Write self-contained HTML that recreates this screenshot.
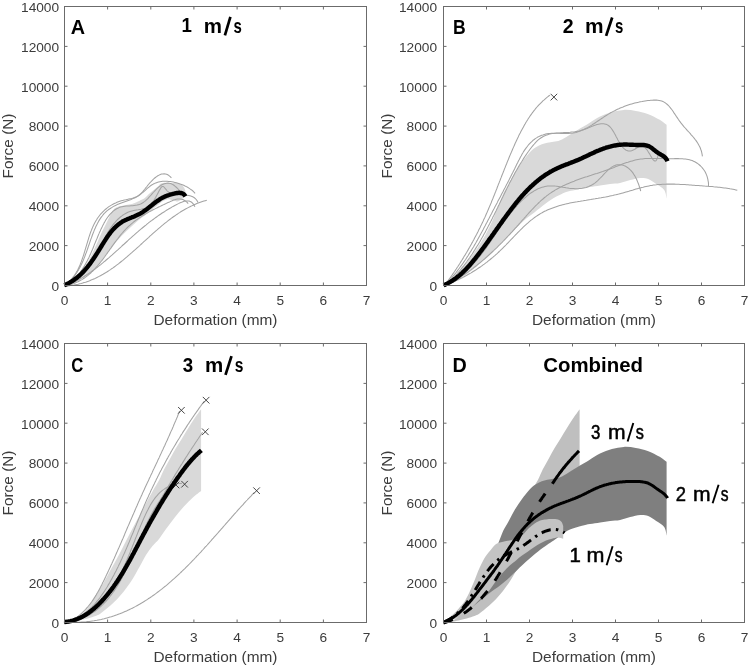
<!DOCTYPE html>
<html><head><meta charset="utf-8"><title>Force-Deformation</title>
<style>html,body{margin:0;padding:0;background:#fff;}svg{display:block;will-change:transform;}text{font-family:"Liberation Sans",sans-serif;}</style>
</head><body>
<svg width="749" height="667" viewBox="0 0 749 667">
<rect width="749" height="667" fill="#fff"/>
<g font-family="Liberation Sans, sans-serif">
<path d="M64.5,285.5C65.9,284.8 70,283.4 73,281C76,278.6 79.8,274.8 82.6,271C85.4,267.2 87.7,262.5 90,258C92.3,253.5 94.8,248 96.6,244C98.4,240 99.7,236.9 101,234C102.3,231.1 103.2,229.5 104.7,226.5C106.2,223.5 108.6,218.6 109.9,216C111.2,213.4 111.5,212.1 112.6,210.7C113.6,209.3 114.7,208.3 116.2,207.5C117.7,206.7 119.9,206.4 121.5,206C123.1,205.6 124.2,205.3 126,205C127.8,204.7 130.2,204.5 132,204C133.8,203.5 135.7,202.6 137,202C138.3,201.4 138.8,201.1 140,200.5C141.2,199.9 143,199.4 144.5,198.3C146,197.2 147.5,195.3 149,194C150.5,192.7 152,191.4 153.5,190.2C155,188.9 156.8,187.6 158,186.5C159.2,185.4 159.8,184.1 161,183.5C162.2,182.9 164,182.8 165.5,182.7C167,182.6 168.5,183.1 170,183.1C171.5,183.1 173,182.6 174.5,182.7C176,182.8 177.6,183 179,183.5C180.4,184 181.7,184.7 182.7,185.7C183.7,186.7 184.5,188.1 185,189.5C185.5,190.9 185.6,193.2 185.7,194L185.7,195.5C185.3,195.9 184.4,196.9 183.5,197.7C182.6,198.4 181.5,199.4 180.5,200C179.5,200.6 178.6,201.4 177.5,201.5C176.4,201.6 174.9,200.8 173.7,200.5C172.4,200.2 171.1,199.7 170,199.5C168.9,199.3 168,199.3 167,199.5C166,199.7 165,200 164,200.5C163,201 162.2,201.6 161,202.5C159.8,203.4 158,204.8 156.5,206C155,207.2 153.5,208.4 152,209.7C150.5,210.9 149,212.3 147.5,213.5C146,214.7 144.8,215.5 143,216.8C141.2,218.1 138.8,220 137,221.5C135.2,223 134.6,223.6 132,226C129.4,228.4 125,232.3 121.5,236C118,239.7 114.4,243.8 111,248C107.6,252.2 104.7,256.8 101.2,261C97.7,265.2 93.9,269.7 90,273C86.1,276.3 82,279 78,281C74,283 68,284.5 66,285.2Z" fill="#d9d9d9" stroke="none"/>
<path d="M64.4,285.4 L65.7,284.5 L66.9,283.6 L68,282.6 L69.1,281.6 L70.2,280.6 L71.2,279.5 L72.1,278.4 L73,277.2 L73.9,276.1 L74.8,274.9 L75.6,273.6 L76.3,272.4 L77.1,271.1 L77.8,269.8 L78.4,268.4 L79.1,267.1 L79.7,265.7 L80.3,264.3 L80.8,262.9 L81.4,261.4 L81.9,260 L82.4,258.5 L82.9,257.1 L83.4,255.6 L83.9,254.1 L84.3,252.6 L84.8,251.1 L85.2,249.6 L85.7,248.1 L86.1,246.6 L86.6,245.1 L87,243.6 L87.5,242.1 L87.9,240.6 L88.4,239.1 L88.8,237.6 L89.3,236.1 L89.8,234.7 L90.3,233.2 L90.8,231.8 L91.4,230.4 L91.9,229 L92.5,227.6 L93.1,226.2 L93.7,224.9 L94.4,223.5 L95.1,222.2 L95.8,221 L96.6,219.7 L97.3,218.5 L98.2,217.3 L99,216.2 L99.9,215 L100.8,213.9 L101.8,212.9 L102.8,211.8 L103.8,210.9 L104.8,209.9 L105.9,209 L107,208.1 L108.2,207.2 L109.3,206.4 L110.6,205.6 L111.8,204.9 L113,204.2 L114.3,203.5 L115.7,202.9 L117,202.3 L118.4,201.8 L119.8,201.3 L121.2,200.8 L122.7,200.4 L124.2,200.1 L125.7,199.8 L127.2,199.4 L128.7,199.1 L130.2,198.8 L131.7,198.5 L133.1,198.1 L134.5,197.6 L135.8,197.1 L137.1,196.4 L138.3,195.7 L139.4,194.8 L140.5,193.9 L141.6,192.9 L142.6,191.8 L143.6,190.6 L144.5,189.5 L145.5,188.2 L146.5,187 L147.5,185.7 L148.5,184.5 L149.6,183.2 L150.7,182 L151.8,180.8 L153,179.6 L154.1,178.5 L155.4,177.5 L156.6,176.6 L157.8,175.8 L159.1,175.1 L160.3,174.5 L161.6,174.1 L162.9,173.9 L164.1,173.8 L165.4,173.9 L166.6,174.2 L167.8,174.8 L169,175.6 L170.2,176.6 L171.4,177.9" fill="none" stroke="#a3a3a3" stroke-width="1.05" stroke-linejoin="round"/>
<path d="M64.7,285.8 L65.9,284.8 L67.1,283.8 L68.3,282.8 L69.4,281.7 L70.4,280.7 L71.5,279.6 L72.4,278.5 L73.4,277.3 L74.3,276.1 L75.2,275 L76,273.8 L76.8,272.6 L77.6,271.3 L78.4,270.1 L79.1,268.8 L79.8,267.5 L80.5,266.2 L81.1,264.9 L81.8,263.6 L82.4,262.2 L83,260.9 L83.6,259.5 L84.1,258.1 L84.7,256.7 L85.2,255.3 L85.7,253.9 L86.3,252.5 L86.8,251.1 L87.3,249.6 L87.8,248.2 L88.3,246.7 L88.8,245.3 L89.3,243.8 L89.8,242.4 L90.3,240.9 L90.8,239.4 L91.4,237.9 L91.9,236.5 L92.4,235 L93,233.5 L93.6,232 L94.1,230.6 L94.7,229.2 L95.4,227.7 L96,226.3 L96.7,224.9 L97.4,223.6 L98.1,222.2 L98.8,220.9 L99.6,219.6 L100.4,218.4 L101.3,217.1 L102.2,216 L103.1,214.8 L104,213.7 L105.1,212.7 L106.1,211.7 L107.2,210.7 L108.3,209.8 L109.5,209 L110.7,208.2 L112,207.4 L113.2,206.6 L114.5,205.9 L115.9,205.3 L117.2,204.6 L118.6,204 L119.9,203.4 L121.3,202.9 L122.7,202.4 L124.1,201.9 L125.5,201.4 L126.9,200.9 L128.3,200.4 L129.7,199.9 L131.1,199.4 L132.4,198.8 L133.8,198.3 L135.1,197.7 L136.4,197 L137.6,196.3 L138.8,195.5 L140,194.7 L141.1,193.8 L142.2,192.9 L143.3,192 L144.4,191.1 L145.5,190.1 L146.5,189.1 L147.6,188.2 L148.7,187.3 L149.8,186.4 L150.9,185.5 L152.1,184.8 L153.3,184.1 L154.6,183.5 L155.8,182.9 L157.1,182.4 L158.5,182 L159.9,181.7 L161.3,181.5 L162.7,181.3 L164.2,181.2 L165.7,181.2 L167.2,181.2 L168.7,181.4 L170.3,181.5 L171.8,181.8 L173.4,182.1 L174.9,182.4 L176.4,182.8 L177.9,183.2 L179.4,183.7 L180.8,184.2 L182.3,184.7 L183.7,185.3 L185,186 L186.3,186.6 L187.6,187.3 L188.9,188.1 L190,188.9 L191.2,189.7 L192.3,190.5 L193.3,191.4 L194.2,192.3 L195.1,193.3" fill="none" stroke="#a3a3a3" stroke-width="1.05" stroke-linejoin="round"/>
<path d="M64.7,285.8 L66,285 L67.4,284.2 L68.7,283.4 L69.9,282.5 L71.1,281.5 L72.3,280.6 L73.4,279.6 L74.5,278.6 L75.6,277.6 L76.6,276.5 L77.6,275.4 L78.6,274.3 L79.5,273.2 L80.4,272 L81.2,270.8 L82.1,269.6 L82.9,268.4 L83.7,267.1 L84.5,265.9 L85.2,264.6 L85.9,263.3 L86.6,262 L87.3,260.7 L88,259.3 L88.7,258 L89.3,256.6 L89.9,255.2 L90.6,253.8 L91.2,252.4 L91.8,251 L92.4,249.6 L93,248.2 L93.6,246.8 L94.1,245.3 L94.7,243.9 L95.3,242.5 L95.9,241 L96.5,239.6 L97.1,238.2 L97.7,236.7 L98.3,235.3 L98.9,233.9 L99.5,232.4 L100.2,231 L100.8,229.6 L101.5,228.2 L102.2,226.8 L102.8,225.4 L103.6,224 L104.3,222.6 L105.1,221.3 L105.8,220 L106.6,218.7 L107.5,217.5 L108.4,216.3 L109.3,215.2 L110.2,214.1 L111.2,213.1 L112.2,212.1 L113.2,211.2 L114.3,210.3 L115.5,209.5 L116.6,208.8 L117.9,208.2 L119.1,207.6 L120.5,207.1 L121.9,206.8 L123.3,206.5 L124.8,206.2 L126.3,206.1 L127.8,206 L129.4,205.9 L131,205.8 L132.5,205.7 L134.1,205.5 L135.6,205.3 L137.1,205.1 L138.5,204.7 L139.9,204.3 L141.2,203.7 L142.4,203 L143.6,202.2 L144.8,201.3 L145.9,200.4 L147,199.4 L148.1,198.3 L149.1,197.2 L150.2,196 L151.2,194.9 L152.2,193.7 L153.2,192.5 L154.3,191.4 L155.3,190.3 L156.4,189.2 L157.5,188.2 L158.6,187.2 L159.7,186.3 L160.8,185.5 L161.9,184.8 L163.1,184.2 L164.3,183.7 L165.5,183.4 L166.7,183.2 L167.9,183.1 L169.2,183.3 L170.5,183.6 L171.8,184.1 L173.2,184.8 L174.6,185.8 L176,187 L177.5,188.4 L179,190 L180.5,192" fill="none" stroke="#a3a3a3" stroke-width="1.05" stroke-linejoin="round"/>
<path d="M64.5,285.8 L66.1,285.3 L67.6,284.8 L69.1,284.2 L70.5,283.5 L71.9,282.8 L73.2,282.1 L74.5,281.3 L75.8,280.5 L77,279.6 L78.2,278.8 L79.3,277.8 L80.4,276.9 L81.5,275.9 L82.5,274.9 L83.5,273.8 L84.5,272.7 L85.4,271.6 L86.4,270.5 L87.3,269.3 L88.1,268.1 L89,266.9 L89.8,265.7 L90.6,264.4 L91.4,263.2 L92.2,261.9 L92.9,260.6 L93.6,259.3 L94.4,258 L95.1,256.6 L95.8,255.3 L96.5,253.9 L97.2,252.6 L97.9,251.2 L98.6,249.8 L99.3,248.4 L100,247.1 L100.6,245.7 L101.3,244.3 L102,242.9 L102.7,241.5 L103.5,240.2 L104.2,238.8 L104.9,237.5 L105.6,236.1 L106.4,234.8 L107.2,233.4 L108,232.1 L108.8,230.8 L109.6,229.5 L110.5,228.3 L111.3,227 L112.2,225.8 L113.1,224.6 L114.1,223.4 L115.1,222.3 L116.1,221.1 L117.1,220 L118.2,219 L119.3,218 L120.4,217 L121.6,216.1 L122.7,215.2 L124,214.4 L125.2,213.7 L126.5,213 L127.9,212.3 L129.2,211.8 L130.7,211.3 L132.1,210.9 L133.6,210.6 L135.1,210.3 L136.6,210 L138.2,209.8 L139.7,209.5 L141.2,209.2 L142.7,208.8 L144.2,208.4 L145.6,207.9 L147,207.2 L148.3,206.4 L149.5,205.5 L150.7,204.4 L151.8,203.1 L152.8,201.8 L153.8,200.5 L154.7,199 L155.6,197.6 L156.4,196.1 L157.2,194.6 L157.9,193.2 L158.6,191.8 L159.3,190.5 L160,189.4 L160.6,188.3 L161.2,187.4 L161.8,186.8 L162.4,186.4 L163,186.4 L163.7,186.8 L164.4,187.5 L165.1,188.4 L166,189.4 L166.8,190.5 L167.8,191.5 L168.8,192.4 L170,193.2 L171.2,193.8 L172.5,194.2 L173.8,194.5 L175.2,194.7 L176.6,194.9 L178.1,195 L179.6,195 L181.1,195 L182.6,195 L184.2,195.1 L185.7,195.1 L187.2,195.3 L188.6,195.5 L190,195.8 L191.4,196.2 L192.7,196.8 L194,197.5 L195.1,198.4 L196.2,199.5 L197.2,200.9 L198.1,202.4" fill="none" stroke="#a3a3a3" stroke-width="1.05" stroke-linejoin="round"/>
<path d="M64.5,286 L66.1,285.7 L67.7,285.3 L69.3,284.9 L70.8,284.5 L72.3,284 L73.8,283.5 L75.2,282.9 L76.6,282.3 L78,281.7 L79.3,281 L80.6,280.3 L81.9,279.6 L83.2,278.8 L84.4,278 L85.6,277.1 L86.7,276.3 L87.9,275.4 L89,274.4 L90.1,273.5 L91.2,272.5 L92.2,271.5 L93.3,270.5 L94.3,269.4 L95.3,268.3 L96.3,267.2 L97.3,266.1 L98.2,265 L99.2,263.9 L100.1,262.7 L101,261.5 L102,260.4 L102.9,259.2 L103.8,258 L104.7,256.8 L105.6,255.5 L106.5,254.3 L107.3,253.1 L108.2,251.8 L109.1,250.6 L110,249.3 L110.9,248.1 L111.7,246.9 L112.6,245.6 L113.5,244.4 L114.4,243.1 L115.3,241.9 L116.2,240.7 L117.1,239.5 L118.1,238.3 L119,237.1 L119.9,235.9 L120.9,234.7 L121.9,233.5 L122.9,232.4 L123.9,231.2 L124.9,230.1 L125.9,229 L127,227.9 L128,226.9 L129.1,225.8 L130.3,224.8 L131.4,223.8 L132.6,222.9 L133.7,221.9 L134.9,221 L136.1,220.1 L137.4,219.2 L138.6,218.3 L139.9,217.5 L141.2,216.6 L142.5,215.8 L143.8,215 L145.1,214.2 L146.4,213.4 L147.7,212.7 L149.1,211.9 L150.4,211.2 L151.8,210.5 L153.1,209.8 L154.5,209.1 L155.9,208.4 L157.3,207.7 L158.6,207 L160,206.4 L161.4,205.7 L162.8,205.1 L164.1,204.4 L165.5,203.8 L166.9,203.1 L168.2,202.5 L169.6,201.9 L170.9,201.2 L172.2,200.7 L173.6,200.1 L174.9,199.7 L176.2,199.3 L177.6,199.1 L178.9,198.9 L180.2,199 L181.5,199.2 L182.9,199.6 L184.2,200.2 L185.5,201.1 L186.9,202.2 L188.2,203.6" fill="none" stroke="#a3a3a3" stroke-width="1.05" stroke-linejoin="round"/>
<path d="M64.8,286.2 L66.2,285.7 L67.6,285.1 L69,284.5 L70.4,283.9 L71.8,283.2 L73.1,282.6 L74.5,281.9 L75.8,281.2 L77.1,280.5 L78.4,279.8 L79.7,279.1 L81,278.3 L82.3,277.6 L83.6,276.8 L84.8,276 L86.1,275.2 L87.3,274.4 L88.5,273.6 L89.8,272.8 L91,271.9 L92.2,271 L93.4,270.2 L94.6,269.3 L95.8,268.4 L97,267.5 L98.1,266.6 L99.3,265.7 L100.5,264.8 L101.6,263.8 L102.8,262.9 L103.9,261.9 L105.1,261 L106.2,260 L107.4,259 L108.5,258.1 L109.6,257.1 L110.7,256.1 L111.9,255.1 L113,254.1 L114.1,253.1 L115.2,252.1 L116.3,251.1 L117.5,250.1 L118.6,249.1 L119.7,248.1 L120.8,247.1 L121.9,246 L123,245 L124.2,244 L125.3,243 L126.4,242 L127.5,241 L128.6,239.9 L129.7,238.9 L130.9,237.9 L132,236.9 L133.1,235.9 L134.3,234.9 L135.4,233.9 L136.5,232.9 L137.7,231.9 L138.8,230.9 L140,229.9 L141.2,228.9 L142.3,228 L143.5,227 L144.7,226 L145.9,225.1 L147,224.1 L148.2,223.2 L149.4,222.2 L150.6,221.3 L151.9,220.4 L153.1,219.5 L154.3,218.6 L155.5,217.7 L156.8,216.8 L158,215.9 L159.3,215 L160.5,214.2 L161.8,213.3 L163.1,212.5 L164.4,211.7 L165.6,210.9 L166.9,210 L168.2,209.3 L169.5,208.5 L170.9,207.7 L172.2,206.9 L173.5,206.2 L174.8,205.5 L176.2,204.8 L177.5,204.1 L178.9,203.4 L180.2,202.7 L181.6,202.2 L182.9,201.7 L184.2,201.3 L185.5,201 L186.7,200.9 L188,200.9 L189.1,201.1 L190.2,201.5 L191.3,202 L192.3,202.8 L193.2,203.9 L194.1,205.2 L194.9,206.8" fill="none" stroke="#a3a3a3" stroke-width="1.05" stroke-linejoin="round"/>
<path d="M64.5,286.1 L66.1,286 L67.7,285.9 L69.2,285.7 L70.8,285.6 L72.3,285.3 L73.8,285.1 L75.4,284.8 L76.9,284.5 L78.3,284.2 L79.8,283.8 L81.3,283.5 L82.7,283.1 L84.1,282.6 L85.6,282.2 L87,281.7 L88.4,281.2 L89.7,280.7 L91.1,280.1 L92.5,279.6 L93.8,279 L95.2,278.4 L96.5,277.7 L97.8,277.1 L99.1,276.4 L100.4,275.7 L101.7,275 L103,274.3 L104.3,273.5 L105.5,272.8 L106.8,272 L108,271.2 L109.3,270.4 L110.5,269.6 L111.7,268.7 L113,267.9 L114.2,267 L115.4,266.1 L116.6,265.2 L117.8,264.3 L119,263.4 L120.1,262.5 L121.3,261.5 L122.5,260.6 L123.7,259.6 L124.8,258.7 L126,257.7 L127.2,256.7 L128.3,255.7 L129.5,254.7 L130.6,253.7 L131.8,252.7 L132.9,251.7 L134,250.7 L135.2,249.7 L136.3,248.7 L137.4,247.6 L138.6,246.6 L139.7,245.6 L140.8,244.5 L142,243.5 L143.1,242.4 L144.2,241.4 L145.4,240.4 L146.5,239.3 L147.6,238.3 L148.8,237.3 L149.9,236.2 L151.1,235.2 L152.2,234.2 L153.3,233.2 L154.5,232.1 L155.6,231.1 L156.8,230.1 L157.9,229.1 L159.1,228.1 L160.3,227.1 L161.4,226.1 L162.6,225.2 L163.8,224.2 L165,223.2 L166.1,222.3 L167.3,221.4 L168.5,220.4 L169.7,219.5 L170.9,218.6 L172.1,217.7 L173.4,216.8 L174.6,216 L175.8,215.1 L177.1,214.3 L178.3,213.4 L179.6,212.6 L180.8,211.8 L182.1,211 L183.4,210.3 L184.7,209.5 L186,208.8 L187.3,208.1 L188.6,207.4 L190,206.7 L191.3,206.1 L192.7,205.4 L194,204.8 L195.4,204.2 L196.8,203.6 L198.2,203.1 L199.6,202.6 L201,202.1 L202.4,201.6 L203.9,201.1 L205.3,200.7 L206.8,200.3" fill="none" stroke="#a3a3a3" stroke-width="1.05" stroke-linejoin="round"/>
<path d="M64.3,285.2 L65.3,284.8 L66.3,284.4 L67.2,283.9 L68.1,283.4 L69.1,282.9 L70,282.4 L70.8,281.9 L71.7,281.4 L72.6,280.9 L73.4,280.3 L74.2,279.7 L75,279.1 L75.8,278.5 L76.6,277.9 L77.4,277.3 L78.1,276.7 L78.9,276 L79.6,275.4 L80.4,274.7 L81.1,274 L81.8,273.3 L82.5,272.6 L83.2,271.9 L83.8,271.2 L84.5,270.5 L85.1,269.7 L85.8,269 L86.4,268.2 L87.1,267.5 L87.7,266.7 L88.3,265.9 L88.9,265.1 L89.5,264.4 L90.1,263.6 L90.7,262.8 L91.3,261.9 L91.8,261.1 L92.4,260.3 L93,259.5 L93.5,258.7 L94.1,257.8 L94.7,257 L95.2,256.1 L95.8,255.3 L96.3,254.4 L96.8,253.6 L97.4,252.7 L97.9,251.9 L98.5,251 L99,250.1 L99.5,249.3 L100.1,248.4 L100.6,247.5 L101.1,246.7 L101.7,245.8 L102.2,244.9 L102.7,244 L103.3,243.2 L103.8,242.3 L104.4,241.4 L104.9,240.6 L105.5,239.7 L106,238.9 L106.6,238 L107.1,237.2 L107.7,236.4 L108.3,235.5 L108.9,234.7 L109.5,233.9 L110.1,233.1 L110.7,232.3 L111.3,231.5 L112,230.8 L112.6,230 L113.3,229.3 L113.9,228.6 L114.6,227.9 L115.3,227.2 L116,226.5 L116.8,225.8 L117.5,225.2 L118.3,224.6 L119,224 L119.8,223.4 L120.6,222.8 L121.4,222.3 L122.3,221.7 L123.1,221.2 L124,220.8 L124.9,220.3 L125.8,219.9 L126.8,219.5 L127.7,219.1 L128.6,218.7 L129.6,218.3 L130.5,217.9 L131.5,217.5 L132.4,217.1 L133.4,216.8 L134.3,216.4 L135.2,216 L136.1,215.6 L137,215.1 L137.9,214.7 L138.8,214.3 L139.7,213.8 L140.6,213.3 L141.4,212.8 L142.3,212.3 L143.1,211.8 L143.9,211.2 L144.7,210.7 L145.6,210.1 L146.4,209.5 L147.2,208.9 L147.9,208.3 L148.7,207.7 L149.5,207.1 L150.3,206.4 L151.1,205.8 L151.9,205.2 L152.7,204.5 L153.4,203.9 L154.2,203.3 L155,202.7 L155.8,202.1 L156.6,201.5 L157.4,200.9 L158.3,200.3 L159.1,199.8 L159.9,199.2 L160.8,198.7 L161.7,198.2 L162.5,197.7 L163.4,197.3 L164.3,196.8 L165.2,196.4 L166.2,196 L167.1,195.7 L168.1,195.3 L169.1,195 L170,194.7 L171,194.4 L172,194.2 L173,193.9 L174,193.7 L175,193.4 L176,193.2 L177,193 L178,192.9 L179,192.8 L179.9,192.9 L180.9,193 L181.7,193.2 L182.6,193.5 L183.4,193.9 L184.1,194.6 L184.8,195.3 L185.4,196.3" fill="none" stroke="#000" stroke-width="4.4" stroke-linejoin="round" stroke-linecap="butt"/>
<path d="M443.5,285.5C445.6,283.8 451.9,279.1 456,275C460.1,270.9 464,266.2 468,261C472,255.8 476.3,249.8 480,244C483.7,238.2 487,232.2 490,226C493,219.8 495.8,212.3 498,207C500.2,201.7 501.4,197.8 503.1,194C504.9,190.2 506.6,188 508.5,184.4C510.4,180.8 512.5,176.4 514.8,172.7C517,168.9 519.6,165.2 522,161.9C524.4,158.6 527,155.3 529.2,152.9C531.5,150.5 533.4,148.9 535.5,147.5C537.6,146.1 539.5,145.1 541.8,144.3C544,143.5 546.8,142.9 549,142.5C551.2,142.1 552.8,142.1 555,141.6C557.2,141.1 559.3,140.7 562,139.4C564.7,138.1 568,135.8 571,134C574,132.2 577,130.4 580,128.6C583,126.8 585.7,125.2 589,123.2C592.3,121.2 596.2,118.4 600,116.5C603.8,114.6 607.9,113 611.9,111.9C615.9,110.8 619.9,110.1 623.9,109.9C627.9,109.7 631.8,110.2 635.8,110.9C639.8,111.6 643.7,112.4 647.7,113.9C651.7,115.4 656.6,118 659.7,119.8C662.9,121.6 665.5,124 666.6,124.8L666.6,198.4C666.2,197 665.9,192.4 664.2,190C662.5,187.6 658.9,185.8 656.2,184C653.5,182.2 650.9,180 648.2,179C645.5,178 643.2,177.8 640.2,178C637.2,178.2 633.6,179.2 630.2,180C626.9,180.8 623.5,182.3 620.1,183C616.8,183.7 613.4,183.6 610.1,184C606.8,184.4 603.5,185 600.1,185.5C596.8,186 593,186.5 590,187C587,187.5 584.5,188.1 582,188.6C579.5,189.1 577.5,189.4 575,189.9C572.5,190.4 569.2,191 567,191.7C564.8,192.4 563.5,193.1 561.7,193.9C559.9,194.7 558.2,195.6 556.4,196.6C554.6,197.6 552.8,198.7 551,199.8C549.2,201 547.5,202.2 545.7,203.5C543.9,204.8 542.1,206.4 540.3,207.8C538.5,209.2 537.7,209.9 535,212C532.3,214.1 527.8,217.2 524,220.6C520.2,224 516,228.4 512,232.4C508,236.4 503.8,240.7 500,244.4C496.2,248.1 493,250.7 489,254.5C485,258.3 480.5,263.2 476,267C471.5,270.8 466.8,274.6 462,277.5C457.2,280.4 449.5,283.1 447,284.2Z" fill="#d9d9d9" stroke="none"/>
<path d="M444.1,286.1 L445,284.9 L445.9,283.7 L446.8,282.5 L447.7,281.3 L448.5,280.1 L449.4,278.8 L450.3,277.6 L451.2,276.4 L452,275.2 L452.9,273.9 L453.7,272.7 L454.6,271.5 L455.4,270.2 L456.2,269 L457,267.7 L457.9,266.5 L458.7,265.2 L459.5,264 L460.3,262.7 L461.1,261.4 L461.9,260.2 L462.7,258.9 L463.5,257.6 L464.2,256.3 L465,255.1 L465.8,253.8 L466.6,252.5 L467.3,251.2 L468.1,249.9 L468.8,248.6 L469.6,247.3 L470.3,246 L471,244.7 L471.7,243.4 L472.5,242.1 L473.2,240.8 L473.9,239.5 L474.6,238.1 L475.3,236.8 L476,235.5 L476.7,234.2 L477.4,232.8 L478.1,231.5 L478.7,230.1 L479.4,228.8 L480.1,227.5 L480.7,226.1 L481.4,224.8 L482,223.4 L482.7,222 L483.3,220.7 L483.9,219.3 L484.6,218 L485.2,216.6 L485.8,215.2 L486.4,213.8 L487,212.5 L487.6,211.1 L488.2,209.7 L488.8,208.3 L489.4,206.9 L490,205.5 L490.6,204.1 L491.2,202.7 L491.7,201.3 L492.3,199.9 L492.9,198.5 L493.4,197.1 L494,195.7 L494.6,194.3 L495.1,192.9 L495.7,191.5 L496.2,190.1 L496.8,188.7 L497.3,187.3 L497.9,185.8 L498.4,184.4 L499,183 L499.5,181.6 L500.1,180.2 L500.6,178.8 L501.2,177.4 L501.7,176 L502.3,174.5 L502.9,173.1 L503.4,171.7 L504,170.3 L504.5,168.9 L505.1,167.5 L505.6,166.1 L506.2,164.7 L506.8,163.3 L507.3,161.9 L507.9,160.5 L508.5,159.1 L509,157.7 L509.6,156.3 L510.2,154.9 L510.8,153.5 L511.4,152.1 L512,150.7 L512.6,149.3 L513.2,147.9 L513.8,146.6 L514.4,145.2 L515,143.8 L515.6,142.4 L516.3,141.1 L516.9,139.7 L517.5,138.4 L518.2,137 L518.8,135.6 L519.5,134.3 L520.2,133 L520.9,131.6 L521.6,130.3 L522.3,129 L523,127.7 L523.7,126.4 L524.4,125.1 L525.2,123.8 L525.9,122.5 L526.7,121.3 L527.5,120 L528.2,118.8 L529.1,117.5 L529.9,116.3 L530.7,115.1 L531.6,113.9 L532.4,112.7 L533.3,111.6 L534.2,110.4 L535.1,109.3 L536,108.1 L537,107 L538,105.9 L538.9,104.9 L540,103.8 L541,102.8 L542,101.8 L543.1,100.7 L544.2,99.8 L545.3,98.8 L546.4,97.8 L547.6,96.9 L548.7,96 L549.9,95.1" fill="none" stroke="#a3a3a3" stroke-width="1.05" stroke-linejoin="round"/>
<path d="M444.1,286 L445.1,285 L446.1,283.9 L447.2,282.9 L448.2,281.8 L449.2,280.7 L450.2,279.6 L451.1,278.5 L452.1,277.4 L453.1,276.2 L454,275.1 L455,273.9 L455.9,272.8 L456.8,271.6 L457.7,270.4 L458.6,269.2 L459.5,268 L460.4,266.8 L461.3,265.6 L462.2,264.4 L463,263.2 L463.9,261.9 L464.7,260.7 L465.6,259.5 L466.4,258.2 L467.2,256.9 L468,255.7 L468.8,254.4 L469.6,253.1 L470.4,251.8 L471.2,250.6 L472,249.3 L472.8,248 L473.6,246.7 L474.3,245.4 L475.1,244.1 L475.9,242.7 L476.6,241.4 L477.4,240.1 L478.1,238.8 L478.8,237.5 L479.6,236.1 L480.3,234.8 L481,233.5 L481.8,232.1 L482.5,230.8 L483.2,229.5 L483.9,228.1 L484.6,226.8 L485.3,225.5 L486,224.1 L486.7,222.8 L487.4,221.4 L488.1,220.1 L488.8,218.8 L489.5,217.4 L490.2,216.1 L490.9,214.8 L491.6,213.5 L492.3,212.1 L492.9,210.8 L493.6,209.5 L494.3,208.2 L495,206.8 L495.7,205.5 L496.4,204.2 L497.1,202.9 L497.7,201.6 L498.4,200.3 L499.1,199 L499.8,197.7 L500.5,196.4 L501.2,195.1 L501.8,193.8 L502.5,192.5 L503.2,191.2 L503.9,189.8 L504.6,188.5 L505.3,187.2 L505.9,185.9 L506.6,184.6 L507.3,183.3 L508,181.9 L508.7,180.6 L509.4,179.2 L510,177.9 L510.7,176.6 L511.4,175.2 L512.1,173.8 L512.8,172.5 L513.5,171.1 L514.2,169.7 L514.9,168.3 L515.5,166.9 L516.2,165.5 L516.9,164.1 L517.6,162.7 L518.3,161.2 L519.1,159.8 L519.8,158.4 L520.5,157 L521.3,155.7 L522,154.3 L522.8,153 L523.6,151.6 L524.4,150.4 L525.3,149.1 L526.2,147.9 L527.1,146.7 L528,145.5 L528.9,144.4 L529.9,143.3 L530.9,142.3 L532,141.3 L533,140.3 L534.2,139.5 L535.3,138.6 L536.5,137.9 L537.7,137.1 L539,136.5 L540.2,135.9 L541.6,135.3 L542.9,134.9 L544.3,134.4 L545.7,134.1 L547.1,133.8 L548.6,133.5 L550,133.4 L551.6,133.2 L553.1,133.2 L554.6,133.2 L556.2,133.2 L557.8,133.2 L559.3,133.3 L560.9,133.4 L562.5,133.4 L564.1,133.5 L565.6,133.5 L567.2,133.5 L568.7,133.4 L570.2,133.3 L571.7,133.2 L573.1,133 L574.6,132.7 L576,132.4 L577.4,132 L578.7,131.5 L580.1,131.1 L581.4,130.5 L582.7,130 L584.1,129.4 L585.3,128.7 L586.6,128.1 L587.9,127.4 L589.2,126.6 L590.4,125.9 L591.7,125.1 L592.9,124.3 L594.2,123.5 L595.4,122.7 L596.6,121.9 L597.9,121 L599.1,120.2 L600.4,119.4 L601.6,118.5 L602.9,117.7 L604.1,116.8 L605.4,116 L606.7,115.2 L608,114.4 L609.3,113.6 L610.6,112.8 L611.9,112.1 L613.3,111.4 L614.7,110.7 L616,110 L617.4,109.3 L618.8,108.7 L620.2,108 L621.6,107.5 L623.1,106.9 L624.5,106.3 L626,105.8 L627.4,105.3 L628.9,104.8 L630.3,104.3 L631.8,103.9 L633.2,103.5 L634.7,103.1 L636.2,102.7 L637.7,102.4 L639.1,102.1 L640.6,101.7 L642.1,101.5 L643.5,101.2 L645,101 L646.5,100.8 L647.9,100.6 L649.4,100.4 L650.8,100.3 L652.3,100.2 L653.7,100.1 L655.1,100.1 L656.5,100.1 L657.8,100.2 L659.2,100.4 L660.5,100.7 L661.7,101 L662.9,101.5 L664.1,102.1 L665.2,102.8 L666.3,103.6 L667.3,104.5 L668.3,105.4 L669.3,106.5 L670.2,107.6 L671.2,108.8 L672.1,110 L673,111.3 L673.8,112.6 L674.7,113.9 L675.6,115.2 L676.5,116.6 L677.4,117.9 L678.3,119.3 L679.2,120.6 L680.2,121.9 L681.1,123.2 L682.1,124.4 L683.1,125.6 L684.1,126.8 L685.2,128 L686.2,129.1 L687.2,130.3 L688.2,131.4 L689.3,132.5 L690.3,133.7 L691.2,134.8 L692.2,135.9 L693.2,137 L694.1,138.1 L695,139.3 L695.9,140.4 L696.7,141.6 L697.5,142.8 L698.2,144 L698.9,145.3 L699.6,146.5 L700.2,147.8 L700.7,149.2 L701.2,150.5 L701.6,151.9 L701.9,153.4 L702.2,154.9 L702.4,156.4" fill="none" stroke="#a3a3a3" stroke-width="1.05" stroke-linejoin="round"/>
<path d="M444.3,286.4 L445.4,285.4 L446.5,284.4 L447.6,283.4 L448.6,282.4 L449.7,281.4 L450.8,280.4 L451.8,279.4 L452.8,278.3 L453.9,277.3 L454.9,276.2 L455.9,275.1 L456.9,274 L457.8,272.9 L458.8,271.8 L459.8,270.7 L460.7,269.5 L461.6,268.4 L462.6,267.2 L463.5,266.1 L464.4,264.9 L465.3,263.7 L466.2,262.5 L467.1,261.3 L467.9,260.1 L468.8,258.9 L469.7,257.7 L470.5,256.4 L471.4,255.2 L472.2,254 L473,252.7 L473.8,251.4 L474.6,250.2 L475.4,248.9 L476.2,247.6 L477,246.3 L477.8,245.1 L478.6,243.8 L479.4,242.5 L480.1,241.2 L480.9,239.8 L481.6,238.5 L482.4,237.2 L483.1,235.9 L483.8,234.6 L484.6,233.2 L485.3,231.9 L486,230.6 L486.7,229.2 L487.4,227.9 L488.1,226.6 L488.8,225.2 L489.5,223.9 L490.2,222.5 L490.9,221.2 L491.6,219.8 L492.3,218.5 L492.9,217.1 L493.6,215.8 L494.3,214.4 L495,213.1 L495.6,211.7 L496.3,210.4 L496.9,209 L497.6,207.7 L498.2,206.3 L498.9,205 L499.5,203.6 L500.2,202.3 L500.8,200.9 L501.5,199.6 L502.1,198.2 L502.8,196.9 L503.4,195.6 L504.1,194.2 L504.7,192.9 L505.4,191.6 L506,190.2 L506.7,188.9 L507.3,187.6 L508,186.3 L508.7,184.9 L509.3,183.6 L510,182.3 L510.7,181 L511.4,179.7 L512.1,178.3 L512.8,177 L513.5,175.7 L514.2,174.4 L514.9,173.1 L515.6,171.8 L516.4,170.5 L517.1,169.2 L517.9,167.9 L518.6,166.6 L519.4,165.3 L520.2,164 L521,162.7 L521.8,161.5 L522.6,160.2 L523.4,158.9 L524.2,157.6 L525.1,156.3 L525.9,155.1 L526.8,153.8 L527.7,152.5 L528.6,151.3 L529.5,150 L530.4,148.8 L531.4,147.5 L532.3,146.3 L533.3,145.1 L534.3,144 L535.3,142.8 L536.4,141.7 L537.4,140.7 L538.5,139.7 L539.6,138.8 L540.8,138 L542,137.2 L543.2,136.5 L544.4,135.9 L545.7,135.3 L546.9,134.9 L548.3,134.5 L549.6,134.1 L550.9,133.8 L552.3,133.6 L553.7,133.4 L555.2,133.2 L556.6,133.1 L558,133 L559.5,132.9 L561,132.8 L562.5,132.7 L564,132.6 L565.5,132.6 L567,132.5 L568.6,132.4 L570.1,132.3 L571.6,132.1 L573.2,132 L574.7,131.8 L576.3,131.5 L577.8,131.2 L579.4,130.9 L580.9,130.5 L582.4,130 L583.9,129.5 L585.5,128.9 L587,128.4 L588.5,127.8 L589.9,127.2 L591.4,126.6 L592.8,126.1 L594.2,125.5 L595.6,125.1 L597,124.6 L598.4,124.3 L599.7,124 L601,123.8 L602.2,123.7 L603.5,123.8 L604.7,123.9 L605.8,124.2 L606.9,124.6 L608,125.2 L609,126 L610,126.9 L611,128 L611.9,129.2 L612.8,130.6 L613.7,132 L614.5,133.5 L615.4,135.1 L616.2,136.7 L617.1,138.3 L617.9,140 L618.8,141.5 L619.7,143.1 L620.6,144.5 L621.6,145.9 L622.6,147.2 L623.6,148.3 L624.7,149.2 L625.8,150 L627,150.6 L628.2,151 L629.5,151.1 L630.8,151 L632.2,150.5 L633.7,149.8 L635.2,149 L636.6,148 L638.1,147.2 L639.6,146.6 L640.9,146.3 L642.2,146.3 L643.4,146.7 L644.6,147.4 L645.7,148.3 L646.7,149.5 L647.6,150.8 L648.5,152.2 L649.4,153.6 L650.2,155 L651,156.4 L651.8,157.7 L652.5,158.9 L653.2,159.8 L653.9,160.5 L654.7,161 L655.3,161 L656,160.7 L656.6,159.8 L657.2,158.5 L657.7,156.9 L658.2,154.8 L658.6,152.5" fill="none" stroke="#a3a3a3" stroke-width="1.05" stroke-linejoin="round"/>
<path d="M443.8,286.1 L445.2,285.5 L446.5,284.8 L447.9,284.1 L449.2,283.4 L450.5,282.7 L451.8,282 L453.1,281.3 L454.4,280.6 L455.7,279.8 L457,279.1 L458.3,278.3 L459.5,277.5 L460.8,276.7 L462,275.9 L463.3,275.1 L464.5,274.3 L465.7,273.5 L467,272.6 L468.2,271.8 L469.4,270.9 L470.6,270.1 L471.8,269.2 L473,268.3 L474.1,267.4 L475.3,266.5 L476.5,265.6 L477.6,264.7 L478.8,263.7 L479.9,262.8 L481.1,261.8 L482.2,260.9 L483.4,259.9 L484.5,259 L485.6,258 L486.7,257 L487.8,256 L488.9,255 L490,254 L491.1,253 L492.2,252 L493.3,251 L494.4,249.9 L495.5,248.9 L496.6,247.9 L497.6,246.8 L498.7,245.7 L499.8,244.7 L500.8,243.6 L501.9,242.6 L502.9,241.5 L504,240.4 L505,239.3 L506.1,238.2 L507.1,237.1 L508.1,236 L509.2,234.9 L510.2,233.8 L511.2,232.7 L512.3,231.6 L513.3,230.4 L514.3,229.3 L515.3,228.2 L516.4,227.1 L517.4,225.9 L518.4,224.8 L519.4,223.6 L520.4,222.5 L521.4,221.4 L522.4,220.2 L523.5,219.1 L524.5,217.9 L525.5,216.8 L526.5,215.6 L527.5,214.5 L528.5,213.4 L529.6,212.2 L530.6,211.1 L531.6,210 L532.7,208.9 L533.7,207.8 L534.8,206.7 L535.8,205.6 L536.9,204.6 L538,203.5 L539.1,202.5 L540.1,201.5 L541.2,200.4 L542.4,199.5 L543.5,198.5 L544.6,197.5 L545.8,196.6 L546.9,195.7 L548.1,194.8 L549.3,193.9 L550.5,193.1 L551.7,192.3 L552.9,191.5 L554.2,190.7 L555.4,189.9 L556.7,189.2 L558,188.5 L559.3,187.8 L560.6,187.1 L561.9,186.4 L563.2,185.8 L564.5,185.2 L565.9,184.6 L567.2,184 L568.6,183.4 L570,182.8 L571.3,182.2 L572.7,181.7 L574.1,181.2 L575.5,180.6 L576.9,180.1 L578.3,179.6 L579.7,179.1 L581.1,178.6 L582.6,178.1 L584,177.6 L585.4,177.1 L586.9,176.7 L588.3,176.2 L589.7,175.7 L591.2,175.3 L592.6,174.8 L594,174.3 L595.5,173.8 L596.9,173.4 L598.4,172.9 L599.8,172.4 L601.2,171.9 L602.7,171.5 L604.1,171 L605.5,170.5 L607,170 L608.4,169.5 L609.8,168.9 L611.2,168.4 L612.6,167.9 L614,167.4 L615.4,166.8 L616.8,166.3 L618.2,165.7 L619.6,165.2 L621,164.7 L622.4,164.1 L623.8,163.6 L625.2,163.1 L626.6,162.6 L628,162.2 L629.4,161.7 L630.8,161.3 L632.3,160.9 L633.7,160.5 L635.1,160.1 L636.5,159.8 L637.9,159.5 L639.4,159.3 L640.8,159.1 L642.3,158.9 L643.7,158.7 L645.2,158.6 L646.6,158.5 L648.1,158.4 L649.6,158.4 L651.1,158.4 L652.5,158.4 L654,158.4 L655.5,158.4 L657,158.4 L658.5,158.4 L660,158.5 L661.5,158.5 L663,158.6 L664.5,158.6 L666,158.6 L667.6,158.7 L669.1,158.7 L670.6,158.7 L672.1,158.7 L673.6,158.7 L675.1,158.6 L676.6,158.6 L678.1,158.6 L679.6,158.7 L681,158.7 L682.5,158.8 L683.9,158.9 L685.4,159 L686.8,159.2 L688.2,159.5 L689.5,159.8 L690.9,160.2 L692.2,160.6 L693.5,161.2 L694.8,161.8 L696,162.5 L697.2,163.2 L698.4,164.1 L699.5,165 L700.6,166 L701.6,167 L702.5,168.1 L703.4,169.3 L704.3,170.5 L705.1,171.8 L705.8,173.2 L706.4,174.6 L707,176.1 L707.4,177.6 L707.8,179.2 L708.1,180.8 L708.4,182.4 L708.5,184.1 L708.5,185.9" fill="none" stroke="#a3a3a3" stroke-width="1.05" stroke-linejoin="round"/>
<path d="M443.3,285.6 L444.8,284.9 L446.3,284.3 L447.7,283.6 L449.1,282.9 L450.5,282.1 L451.8,281.4 L453.2,280.6 L454.5,279.8 L455.8,279 L457,278.2 L458.3,277.3 L459.5,276.4 L460.7,275.5 L461.9,274.6 L463,273.7 L464.2,272.7 L465.3,271.8 L466.4,270.8 L467.5,269.8 L468.6,268.8 L469.6,267.7 L470.7,266.7 L471.7,265.6 L472.7,264.6 L473.7,263.5 L474.7,262.4 L475.7,261.3 L476.6,260.1 L477.6,259 L478.5,257.9 L479.5,256.7 L480.4,255.5 L481.3,254.4 L482.2,253.2 L483.1,252 L484,250.8 L484.9,249.6 L485.8,248.4 L486.6,247.2 L487.5,246 L488.3,244.7 L489.2,243.5 L490.1,242.3 L490.9,241 L491.8,239.8 L492.6,238.5 L493.5,237.3 L494.3,236 L495.1,234.8 L496,233.5 L496.8,232.3 L497.7,231 L498.5,229.8 L499.4,228.5 L500.3,227.3 L501.1,226 L502,224.8 L502.9,223.5 L503.7,222.3 L504.6,221.1 L505.5,219.8 L506.4,218.6 L507.3,217.4 L508.2,216.2 L509.2,215 L510.1,213.8 L511,212.6 L512,211.4 L513,210.2 L513.9,209.1 L514.9,207.9 L515.9,206.8 L516.9,205.7 L518,204.5 L519,203.4 L520.1,202.3 L521.2,201.2 L522.3,200.2 L523.4,199.1 L524.5,198.1 L525.7,197.1 L526.8,196.1 L528,195.1 L529.2,194.2 L530.4,193.3 L531.6,192.5 L532.9,191.7 L534.1,190.9 L535.4,190.2 L536.7,189.5 L538,188.8 L539.4,188.3 L540.7,187.7 L542.1,187.3 L543.5,186.9 L544.9,186.5 L546.3,186.3 L547.8,186.1 L549.2,185.9 L550.7,185.9 L552.2,185.9 L553.8,185.9 L555.3,186.1 L556.8,186.2 L558.4,186.4 L559.9,186.7 L561.5,186.9 L563,187.2 L564.6,187.4 L566.1,187.7 L567.7,187.9 L569.2,188.2 L570.7,188.4 L572.2,188.5 L573.7,188.6 L575.1,188.7 L576.6,188.7 L578,188.7 L579.4,188.6 L580.8,188.5 L582.2,188.3 L583.5,188 L584.9,187.7 L586.2,187.4 L587.5,186.9 L588.8,186.4 L590.1,185.8 L591.4,185.2 L592.6,184.5 L593.9,183.7 L595.1,182.8 L596.3,181.8 L597.5,180.8 L598.7,179.7 L599.8,178.5 L601,177.3 L602.2,176.1 L603.3,174.9 L604.4,173.7 L605.6,172.5 L606.7,171.4 L607.9,170.2 L609,169.2 L610.2,168.3 L611.3,167.4 L612.5,166.6 L613.7,166 L614.9,165.5 L616.1,165.1 L617.3,164.8 L618.5,164.7 L619.7,164.7 L620.9,164.8 L622.1,165 L623.3,165.3 L624.4,165.8 L625.6,166.3 L626.7,167 L627.8,167.7 L628.9,168.6 L629.9,169.5 L631,170.6 L631.9,171.7 L632.9,172.9 L633.7,174.2 L634.6,175.6 L635.4,177 L636.2,178.5 L636.9,180 L637.5,181.6 L638.2,183.2 L638.8,184.8 L639.3,186.4 L639.8,188 L640.3,189.5 L640.7,191.1" fill="none" stroke="#a3a3a3" stroke-width="1.05" stroke-linejoin="round"/>
<path d="M443.6,285.8 L445.1,285.3 L446.5,284.8 L447.9,284.2 L449.3,283.6 L450.7,283.1 L452.1,282.5 L453.5,281.9 L454.8,281.3 L456.2,280.6 L457.6,280 L458.9,279.4 L460.2,278.7 L461.6,278 L462.9,277.4 L464.2,276.7 L465.5,276 L466.8,275.3 L468.1,274.5 L469.4,273.8 L470.7,273.1 L472,272.3 L473.2,271.5 L474.5,270.7 L475.7,270 L477,269.1 L478.2,268.3 L479.4,267.5 L480.7,266.7 L481.9,265.8 L483.1,264.9 L484.3,264.1 L485.5,263.2 L486.7,262.3 L487.8,261.3 L489,260.4 L490.2,259.5 L491.3,258.5 L492.5,257.6 L493.6,256.6 L494.8,255.6 L495.9,254.6 L497.1,253.6 L498.2,252.5 L499.3,251.5 L500.4,250.4 L501.5,249.4 L502.6,248.3 L503.7,247.2 L504.8,246.1 L505.9,245 L506.9,243.9 L508,242.8 L509.1,241.7 L510.2,240.5 L511.2,239.4 L512.3,238.3 L513.4,237.2 L514.5,236 L515.5,234.9 L516.6,233.8 L517.7,232.7 L518.8,231.6 L519.9,230.5 L521,229.4 L522.1,228.3 L523.2,227.2 L524.3,226.2 L525.4,225.2 L526.5,224.1 L527.7,223.1 L528.8,222.1 L529.9,221.2 L531.1,220.2 L532.3,219.3 L533.4,218.4 L534.6,217.5 L535.8,216.6 L537.1,215.8 L538.3,215 L539.5,214.2 L540.8,213.4 L542.1,212.7 L543.3,212 L544.6,211.3 L546,210.7 L547.3,210.1 L548.6,209.5 L550,208.9 L551.3,208.4 L552.7,207.9 L554.1,207.4 L555.5,206.9 L556.9,206.4 L558.3,206 L559.7,205.6 L561.1,205.2 L562.6,204.8 L564,204.4 L565.5,204.1 L566.9,203.7 L568.4,203.4 L569.8,203.1 L571.3,202.8 L572.8,202.5 L574.3,202.2 L575.7,201.9 L577.2,201.7 L578.7,201.4 L580.2,201.2 L581.7,200.9 L583.2,200.7 L584.7,200.4 L586.2,200.2 L587.7,199.9 L589.2,199.7 L590.7,199.5 L592.1,199.2 L593.6,199 L595.1,198.8 L596.6,198.5 L598.1,198.3 L599.6,198 L601.1,197.8 L602.5,197.5 L604,197.2 L605.5,197 L607,196.7 L608.4,196.4 L609.9,196.1 L611.4,195.8 L612.8,195.5 L614.3,195.1 L615.7,194.8 L617.2,194.4 L618.7,194.1 L620.1,193.7 L621.6,193.3 L623,192.9 L624.4,192.5 L625.9,192.1 L627.3,191.7 L628.8,191.3 L630.2,190.8 L631.6,190.4 L633.1,190 L634.5,189.5 L635.9,189.1 L637.4,188.7 L638.8,188.3 L640.3,187.9 L641.7,187.5 L643.2,187.2 L644.6,186.8 L646.1,186.5 L647.5,186.2 L649,185.9 L650.4,185.6 L651.9,185.4 L653.4,185.1 L654.8,184.9 L656.3,184.8 L657.8,184.6 L659.3,184.5 L660.8,184.4 L662.3,184.3 L663.8,184.2 L665.3,184.2 L666.8,184.1 L668.3,184.1 L669.8,184.1 L671.3,184.1 L672.8,184.1 L674.3,184.1 L675.8,184.2 L677.4,184.2 L678.9,184.3 L680.4,184.4 L681.9,184.4 L683.4,184.5 L684.9,184.6 L686.5,184.7 L688,184.8 L689.5,184.9 L691,185 L692.5,185.2 L694.1,185.3 L695.6,185.4 L697.1,185.5 L698.6,185.6 L700.1,185.7 L701.6,185.8 L703.1,185.9 L704.6,186.1 L706.2,186.2 L707.7,186.3 L709.2,186.4 L710.7,186.5 L712.2,186.6 L713.7,186.8 L715.2,186.9 L716.6,187 L718.1,187.2 L719.6,187.3 L721.1,187.5 L722.6,187.7 L724.1,187.9 L725.6,188.1 L727,188.3 L728.5,188.5 L730,188.8 L731.4,189 L732.9,189.3 L734.4,189.6 L735.8,189.9 L737.3,190.3" fill="none" stroke="#a3a3a3" stroke-width="1.05" stroke-linejoin="round"/>
<path d="M550.6,93.8l6.6,6.6M550.6,100.4l6.6,-6.6" stroke="#333" stroke-width="0.9" fill="none"/>
<path d="M443.6,285.3 L444.5,284.9 L445.4,284.5 L446.3,284.1 L447.2,283.6 L448.1,283.2 L449,282.7 L449.9,282.2 L450.7,281.7 L451.6,281.2 L452.4,280.6 L453.2,280.1 L454,279.5 L454.9,279 L455.7,278.4 L456.4,277.8 L457.2,277.2 L458,276.5 L458.8,275.9 L459.5,275.3 L460.3,274.6 L461,274 L461.8,273.3 L462.5,272.6 L463.2,271.9 L463.9,271.2 L464.7,270.5 L465.4,269.8 L466.1,269.1 L466.8,268.3 L467.4,267.6 L468.1,266.9 L468.8,266.1 L469.5,265.4 L470.1,264.6 L470.8,263.8 L471.4,263.1 L472.1,262.3 L472.7,261.5 L473.4,260.7 L474,259.9 L474.6,259.2 L475.3,258.4 L475.9,257.6 L476.5,256.8 L477.1,256 L477.8,255.2 L478.4,254.4 L479,253.6 L479.6,252.8 L480.2,252 L480.8,251.2 L481.4,250.4 L482,249.6 L482.6,248.8 L483.2,248 L483.8,247.2 L484.4,246.4 L485,245.6 L485.6,244.8 L486.1,244 L486.7,243.2 L487.3,242.4 L487.9,241.6 L488.5,240.8 L489,239.9 L489.6,239.1 L490.2,238.3 L490.8,237.5 L491.4,236.7 L491.9,235.9 L492.5,235.1 L493.1,234.3 L493.7,233.5 L494.2,232.7 L494.8,231.8 L495.4,231 L496,230.2 L496.5,229.4 L497.1,228.6 L497.7,227.8 L498.3,227 L498.8,226.2 L499.4,225.3 L500,224.5 L500.6,223.7 L501.2,222.9 L501.8,222.1 L502.3,221.3 L502.9,220.4 L503.5,219.6 L504.1,218.8 L504.7,218 L505.3,217.2 L505.9,216.4 L506.5,215.5 L507.1,214.7 L507.7,213.9 L508.3,213.1 L508.9,212.3 L509.5,211.5 L510.1,210.7 L510.7,209.9 L511.3,209.1 L511.9,208.3 L512.5,207.5 L513.1,206.7 L513.8,205.9 L514.4,205.1 L515,204.3 L515.6,203.5 L516.3,202.7 L516.9,201.9 L517.6,201.1 L518.2,200.4 L518.8,199.6 L519.5,198.8 L520.1,198.1 L520.8,197.3 L521.5,196.5 L522.1,195.8 L522.8,195 L523.5,194.3 L524.1,193.6 L524.8,192.8 L525.5,192.1 L526.2,191.4 L526.9,190.6 L527.6,189.9 L528.3,189.2 L529,188.5 L529.7,187.8 L530.4,187.1 L531.1,186.4 L531.8,185.8 L532.6,185.1 L533.3,184.4 L534,183.8 L534.8,183.1 L535.5,182.4 L536.3,181.8 L537.1,181.2 L537.8,180.5 L538.6,179.9 L539.4,179.3 L540.1,178.7 L540.9,178.1 L541.7,177.5 L542.5,176.9 L543.3,176.3 L544.1,175.8 L545,175.2 L545.8,174.7 L546.6,174.1 L547.5,173.6 L548.3,173.1 L549.1,172.6 L550,172 L550.9,171.5 L551.7,171.1 L552.6,170.6 L553.5,170.1 L554.4,169.7 L555.3,169.2 L556.2,168.8 L557.1,168.3 L558,167.9 L558.9,167.5 L559.9,167.1 L560.8,166.7 L561.7,166.3 L562.7,165.9 L563.6,165.5 L564.6,165.2 L565.5,164.8 L566.5,164.4 L567.4,164.1 L568.4,163.7 L569.3,163.3 L570.3,163 L571.2,162.6 L572.2,162.2 L573.1,161.9 L574.1,161.5 L575,161.1 L576,160.7 L576.9,160.4 L577.8,160 L578.8,159.6 L579.7,159.2 L580.6,158.8 L581.5,158.4 L582.4,157.9 L583.3,157.5 L584.2,157.1 L585.1,156.7 L586,156.3 L586.9,155.8 L587.8,155.4 L588.7,155 L589.6,154.5 L590.5,154.1 L591.4,153.7 L592.3,153.3 L593.2,152.9 L594.1,152.5 L595,152 L595.9,151.6 L596.8,151.2 L597.7,150.8 L598.6,150.5 L599.6,150.1 L600.5,149.7 L601.4,149.4 L602.4,149 L603.3,148.7 L604.2,148.3 L605.2,148 L606.1,147.7 L607.1,147.4 L608.1,147.1 L609,146.8 L610,146.6 L611,146.3 L611.9,146.1 L612.9,145.9 L613.9,145.7 L614.9,145.5 L615.9,145.3 L616.9,145.2 L617.9,145 L618.8,144.9 L619.8,144.8 L620.8,144.7 L621.8,144.6 L622.8,144.6 L623.8,144.5 L624.8,144.5 L625.8,144.5 L626.8,144.5 L627.8,144.6 L628.8,144.6 L629.8,144.7 L630.8,144.7 L631.8,144.8 L632.9,144.8 L633.9,144.9 L634.9,144.9 L635.9,145 L636.9,145 L637.9,145 L638.9,145 L639.9,145 L641,145 L641.9,145 L642.9,145 L643.9,145 L644.9,145.1 L645.8,145.3 L646.7,145.5 L647.6,145.8 L648.5,146.1 L649.4,146.5 L650.2,147 L651,147.5 L651.8,148.1 L652.6,148.7 L653.4,149.4 L654.2,150 L655,150.6 L655.8,151.3 L656.6,151.9 L657.5,152.5 L658.3,153.1 L659.2,153.6 L660.1,154.1 L660.9,154.6 L661.8,155.1 L662.6,155.6 L663.4,156.2 L664.2,156.7 L664.9,157.3 L665.5,158 L666.1,158.7 L666.6,159.5 L667.1,160.4 L667.4,161.3" fill="none" stroke="#000" stroke-width="4.4" stroke-linejoin="round" stroke-linecap="butt"/>
<path d="M64.5,622.5C66.2,622.1 71.2,622.4 75,620C78.8,617.6 84.2,612.3 87.6,608.2C91,604.1 92.9,599.8 95.5,595.6C98.1,591.4 100.8,587.5 103.4,583C106,578.5 108.6,573.5 111.2,568.8C113.8,564.1 116.5,559.6 119.1,554.6C121.7,549.6 124.6,543.6 127,539C129.4,534.4 131.1,531.1 133.3,527C135.5,522.9 137.7,518.8 140,514.5C142.3,510.2 144.8,505.5 147,501.5C149.2,497.5 151,494.1 153,490.5C155,486.9 157.4,483.5 159.2,480C161,476.5 162.2,473.1 164,469.5C165.8,465.9 168,462.3 170,458.7C172,455.1 174,451.4 176,448C178,444.6 180,441.6 182,438.4C184,435.2 185.9,432 187.9,428.8C189.9,425.6 191.7,422.5 193.9,419.2C196.1,415.9 199.9,410.9 201.1,409.2L201.1,491C199.7,492.1 195.8,494.9 192.9,497.5C190,500.1 186.9,503.2 183.9,506.5C180.9,509.8 177.9,513.5 174.9,517.3C171.9,521 168.7,525.4 166,529C163.3,532.6 161.2,536.2 159,539C156.8,541.8 154.7,543.3 152.5,546C150.3,548.7 148.1,551.7 146,555C143.9,558.3 142.7,561.3 140,566C137.3,570.7 133.8,577.5 130,583C126.2,588.5 121.9,594 117.5,598.7C113.1,603.4 107.1,608.4 103.4,611.3C99.7,614.2 99.5,614.6 95.5,616.1C91.5,617.6 84.3,619.5 79.7,620.5C75.1,621.5 70,621.9 68,622.2Z" fill="#d9d9d9" stroke="none"/>
<path d="M64.9,623.5 L66.4,622.9 L67.9,622.3 L69.3,621.6 L70.6,621 L72,620.3 L73.3,619.5 L74.5,618.7 L75.8,617.9 L77,617.1 L78.2,616.2 L79.3,615.3 L80.4,614.4 L81.5,613.4 L82.6,612.4 L83.6,611.4 L84.7,610.4 L85.7,609.3 L86.6,608.2 L87.6,607.1 L88.5,606 L89.4,604.9 L90.3,603.7 L91.2,602.5 L92.1,601.3 L92.9,600.1 L93.7,598.9 L94.5,597.6 L95.3,596.4 L96.1,595.1 L96.8,593.8 L97.6,592.5 L98.3,591.2 L99.1,589.9 L99.8,588.5 L100.5,587.2 L101.2,585.8 L101.9,584.5 L102.5,583.1 L103.2,581.8 L103.9,580.4 L104.6,579.1 L105.2,577.7 L105.9,576.3 L106.5,574.9 L107.2,573.6 L107.8,572.2 L108.5,570.8 L109.1,569.4 L109.8,568.1 L110.4,566.7 L111,565.3 L111.7,563.9 L112.3,562.5 L112.9,561.2 L113.5,559.8 L114.2,558.4 L114.8,557 L115.4,555.6 L116,554.2 L116.6,552.8 L117.2,551.5 L117.8,550.1 L118.4,548.7 L119.1,547.3 L119.7,545.9 L120.3,544.5 L120.9,543.1 L121.5,541.7 L122.1,540.3 L122.7,539 L123.3,537.6 L123.9,536.2 L124.5,534.8 L125,533.4 L125.6,532 L126.2,530.6 L126.8,529.2 L127.4,527.8 L128,526.4 L128.6,525.1 L129.2,523.7 L129.8,522.3 L130.4,520.9 L131,519.5 L131.6,518.1 L132.2,516.7 L132.8,515.3 L133.4,514 L134,512.6 L134.6,511.2 L135.2,509.8 L135.8,508.4 L136.4,507 L137,505.7 L137.6,504.3 L138.2,502.9 L138.8,501.5 L139.4,500.2 L140,498.8 L140.7,497.4 L141.3,496 L141.9,494.7 L142.5,493.3 L143.1,491.9 L143.8,490.6 L144.4,489.2 L145,487.8 L145.6,486.5 L146.3,485.1 L146.9,483.7 L147.5,482.4 L148.2,481 L148.8,479.7 L149.4,478.3 L150.1,476.9 L150.7,475.6 L151.3,474.2 L152,472.9 L152.6,471.5 L153.2,470.1 L153.9,468.8 L154.5,467.4 L155.2,466.1 L155.8,464.7 L156.4,463.4 L157.1,462 L157.7,460.6 L158.3,459.3 L159,457.9 L159.6,456.6 L160.2,455.2 L160.9,453.8 L161.5,452.5 L162.1,451.1 L162.8,449.8 L163.4,448.4 L164,447 L164.7,445.7 L165.3,444.3 L165.9,442.9 L166.5,441.6 L167.2,440.2 L167.8,438.8 L168.4,437.4 L169,436.1 L169.6,434.7 L170.2,433.3 L170.8,431.9 L171.4,430.6 L172.1,429.2 L172.7,427.8 L173.3,426.4 L173.8,425 L174.4,423.6 L175,422.2 L175.6,420.9 L176.2,419.5 L176.8,418.1 L177.4,416.7 L177.9,415.3 L178.5,413.9 L179.1,412.5 L179.6,411" fill="none" stroke="#a3a3a3" stroke-width="1.05" stroke-linejoin="round"/>
<path d="M65.1,624 L66.6,623.5 L68.1,623 L69.5,622.4 L70.9,621.8 L72.3,621.2 L73.7,620.5 L75,619.8 L76.3,619.1 L77.6,618.4 L78.8,617.6 L80.1,616.8 L81.3,616 L82.5,615.2 L83.7,614.3 L84.8,613.4 L85.9,612.5 L87.1,611.6 L88.1,610.6 L89.2,609.6 L90.3,608.6 L91.3,607.6 L92.3,606.6 L93.3,605.5 L94.3,604.5 L95.3,603.4 L96.2,602.3 L97.1,601.2 L98.1,600 L99,598.9 L99.9,597.7 L100.7,596.5 L101.6,595.3 L102.4,594.1 L103.3,592.9 L104.1,591.7 L104.9,590.5 L105.7,589.2 L106.5,588 L107.3,586.7 L108,585.4 L108.8,584.1 L109.6,582.8 L110.3,581.5 L111,580.2 L111.8,578.9 L112.5,577.6 L113.2,576.3 L113.9,575 L114.6,573.6 L115.3,572.3 L116,571 L116.7,569.6 L117.3,568.3 L118,566.9 L118.6,565.6 L119.3,564.2 L120,562.8 L120.6,561.5 L121.2,560.1 L121.9,558.7 L122.5,557.3 L123.1,555.9 L123.7,554.6 L124.4,553.2 L125,551.8 L125.6,550.4 L126.2,549 L126.8,547.6 L127.4,546.2 L128,544.8 L128.6,543.4 L129.2,542 L129.8,540.5 L130.4,539.1 L130.9,537.7 L131.5,536.3 L132.1,534.9 L132.7,533.5 L133.3,532.1 L133.8,530.7 L134.4,529.2 L135,527.8 L135.6,526.4 L136.2,525 L136.7,523.6 L137.3,522.2 L137.9,520.7 L138.5,519.3 L139.1,517.9 L139.7,516.5 L140.2,515.1 L140.8,513.7 L141.4,512.3 L142,510.9 L142.6,509.5 L143.2,508.1 L143.8,506.7 L144.4,505.3 L145,503.9 L145.6,502.5 L146.2,501.1 L146.8,499.7 L147.4,498.4 L148.1,497 L148.7,495.6 L149.3,494.2 L150,492.9 L150.6,491.5 L151.2,490.1 L151.9,488.8 L152.5,487.4 L153.2,486.1 L153.8,484.7 L154.5,483.4 L155.1,482 L155.8,480.7 L156.4,479.3 L157.1,478 L157.8,476.6 L158.5,475.3 L159.1,474 L159.8,472.6 L160.5,471.3 L161.2,470 L161.9,468.6 L162.6,467.3 L163.3,466 L164,464.7 L164.7,463.4 L165.4,462.1 L166.1,460.7 L166.8,459.4 L167.6,458.1 L168.3,456.8 L169,455.5 L169.8,454.2 L170.5,452.9 L171.2,451.6 L172,450.3 L172.7,449 L173.5,447.7 L174.2,446.5 L175,445.2 L175.8,443.9 L176.5,442.6 L177.3,441.3 L178.1,440 L178.9,438.8 L179.7,437.5 L180.4,436.2 L181.2,434.9 L182,433.7 L182.8,432.4 L183.6,431.1 L184.5,429.9 L185.3,428.6 L186.1,427.4 L186.9,426.1 L187.7,424.8 L188.6,423.6 L189.4,422.3 L190.2,421.1 L191.1,419.8 L191.9,418.6 L192.8,417.3 L193.6,416.1 L194.5,414.8 L195.3,413.6 L196.2,412.4 L197.1,411.1 L198,409.9 L198.8,408.6 L199.7,407.4 L200.6,406.2 L201.5,404.9 L202.4,403.7 L203.3,402.5 L204.2,401.3" fill="none" stroke="#a3a3a3" stroke-width="1.05" stroke-linejoin="round"/>
<path d="M64.7,623.5 L66.3,623.1 L67.8,622.7 L69.3,622.2 L70.8,621.7 L72.3,621.2 L73.7,620.7 L75.1,620.1 L76.5,619.5 L77.8,618.9 L79.2,618.2 L80.5,617.5 L81.8,616.8 L83.1,616 L84.3,615.3 L85.5,614.5 L86.8,613.6 L87.9,612.8 L89.1,611.9 L90.3,611 L91.4,610.1 L92.5,609.2 L93.6,608.2 L94.7,607.2 L95.8,606.2 L96.8,605.2 L97.8,604.2 L98.9,603.1 L99.9,602.1 L100.9,601 L101.8,599.9 L102.8,598.8 L103.8,597.6 L104.7,596.5 L105.6,595.3 L106.6,594.2 L107.5,593 L108.4,591.8 L109.3,590.6 L110.1,589.4 L111,588.2 L111.9,587 L112.7,585.8 L113.6,584.5 L114.4,583.3 L115.3,582 L116.1,580.8 L116.9,579.5 L117.7,578.3 L118.5,577 L119.3,575.7 L120.1,574.4 L120.9,573.1 L121.7,571.8 L122.5,570.5 L123.2,569.2 L124,567.9 L124.8,566.6 L125.5,565.3 L126.3,564 L127,562.7 L127.8,561.4 L128.5,560 L129.2,558.7 L130,557.4 L130.7,556 L131.4,554.7 L132.2,553.3 L132.9,552 L133.6,550.7 L134.3,549.3 L135,548 L135.7,546.6 L136.4,545.3 L137.1,543.9 L137.8,542.5 L138.5,541.2 L139.2,539.8 L140,538.5 L140.7,537.1 L141.4,535.8 L142,534.4 L142.7,533.1 L143.4,531.7 L144.1,530.3 L144.8,529 L145.5,527.6 L146.2,526.3 L146.9,524.9 L147.6,523.6 L148.4,522.2 L149.1,520.9 L149.8,519.6 L150.5,518.2 L151.2,516.9 L151.9,515.5 L152.6,514.2 L153.3,512.9 L154,511.5 L154.8,510.2 L155.5,508.9 L156.2,507.6 L156.9,506.3 L157.7,504.9 L158.4,503.6 L159.1,502.3 L159.8,501 L160.6,499.7 L161.3,498.4 L162.1,497.1 L162.8,495.8 L163.5,494.5 L164.3,493.2 L165,491.9 L165.8,490.6 L166.5,489.3 L167.3,488 L168,486.7 L168.8,485.4 L169.6,484.1 L170.3,482.8 L171.1,481.5 L171.9,480.2 L172.6,479 L173.4,477.7 L174.2,476.4 L174.9,475.1 L175.7,473.8 L176.5,472.6 L177.3,471.3 L178.1,470 L178.8,468.8 L179.6,467.5 L180.4,466.2 L181.2,464.9 L182,463.7 L182.8,462.4 L183.6,461.1 L184.4,459.9 L185.2,458.6 L186,457.3 L186.8,456.1 L187.6,454.8 L188.4,453.6 L189.2,452.3 L190.1,451 L190.9,449.8 L191.7,448.5 L192.5,447.3 L193.4,446 L194.2,444.8 L195,443.5 L195.8,442.2 L196.7,441 L197.5,439.7 L198.4,438.5 L199.2,437.2 L200,436 L200.9,434.7 L201.7,433.5 L202.6,432.2" fill="none" stroke="#a3a3a3" stroke-width="1.05" stroke-linejoin="round"/>
<path d="M64.6,623 L66.1,622.7 L67.7,622.4 L69.2,622 L70.7,621.6 L72.2,621.2 L73.6,620.7 L75,620.2 L76.5,619.6 L77.9,619.1 L79.2,618.5 L80.6,617.8 L81.9,617.2 L83.2,616.5 L84.5,615.8 L85.8,615 L87,614.3 L88.2,613.5 L89.4,612.6 L90.6,611.8 L91.8,610.9 L93,610 L94.1,609.1 L95.2,608.1 L96.3,607.2 L97.4,606.2 L98.5,605.2 L99.5,604.1 L100.5,603.1 L101.6,602 L102.6,600.9 L103.5,599.8 L104.5,598.7 L105.5,597.5 L106.4,596.3 L107.3,595.2 L108.2,594 L109.1,592.8 L110,591.5 L110.8,590.3 L111.7,589 L112.5,587.8 L113.3,586.5 L114.1,585.2 L114.9,583.9 L115.7,582.6 L116.5,581.3 L117.2,579.9 L118,578.6 L118.7,577.3 L119.4,575.9 L120.1,574.5 L120.8,573.2 L121.5,571.8 L122.2,570.4 L122.8,569 L123.5,567.7 L124.1,566.3 L124.8,564.9 L125.4,563.5 L126,562.1 L126.6,560.7 L127.2,559.2 L127.8,557.8 L128.4,556.4 L129,555 L129.6,553.6 L130.2,552.1 L130.7,550.7 L131.3,549.3 L131.9,547.9 L132.4,546.4 L133,545 L133.6,543.6 L134.1,542.1 L134.7,540.7 L135.2,539.3 L135.8,537.8 L136.4,536.4 L136.9,535 L137.5,533.6 L138,532.1 L138.6,530.7 L139.2,529.3 L139.8,527.9 L140.3,526.5 L140.9,525.1 L141.5,523.7 L142.1,522.3 L142.7,520.9 L143.3,519.5 L143.9,518.1 L144.5,516.7 L145.2,515.3 L145.8,513.9 L146.5,512.6 L147.1,511.2 L147.8,509.9 L148.5,508.5 L149.2,507.2 L149.9,505.9 L150.6,504.6 L151.4,503.4 L152.2,502.1 L153,500.9 L153.8,499.7 L154.6,498.6 L155.5,497.4 L156.4,496.3 L157.3,495.3 L158.3,494.2 L159.3,493.2 L160.3,492.2 L161.3,491.3 L162.4,490.4 L163.6,489.6 L164.7,488.8 L165.9,488 L167.2,487.3 L168.4,486.7 L169.8,486.1 L171.1,485.5 L172.5,485 L174,484.5 L175.5,484.2 L177.1,483.8 L178.7,483.6 L180.3,483.4 L182,483.2" fill="none" stroke="#a3a3a3" stroke-width="1.05" stroke-linejoin="round"/>
<path d="M64.3,623.5 L66,623.2 L67.6,622.9 L69.3,622.6 L70.9,622.2 L72.4,621.8 L74,621.4 L75.5,621 L77,620.5 L78.5,620 L79.9,619.5 L81.3,618.9 L82.7,618.3 L84.1,617.7 L85.4,617 L86.7,616.4 L88,615.7 L89.3,615 L90.5,614.2 L91.8,613.4 L93,612.6 L94.2,611.8 L95.3,611 L96.5,610.1 L97.6,609.2 L98.7,608.3 L99.8,607.4 L100.8,606.4 L101.9,605.5 L102.9,604.5 L103.9,603.4 L104.9,602.4 L105.9,601.4 L106.8,600.3 L107.8,599.2 L108.7,598.1 L109.6,597 L110.5,595.8 L111.4,594.7 L112.3,593.5 L113.1,592.3 L114,591.1 L114.8,589.9 L115.6,588.7 L116.4,587.5 L117.2,586.2 L118,584.9 L118.7,583.7 L119.5,582.4 L120.2,581.1 L121,579.8 L121.7,578.4 L122.4,577.1 L123.1,575.8 L123.8,574.4 L124.5,573.1 L125.2,571.7 L125.9,570.3 L126.6,568.9 L127.2,567.5 L127.9,566.2 L128.5,564.8 L129.2,563.3 L129.8,561.9 L130.4,560.5 L131.1,559.1 L131.7,557.7 L132.3,556.3 L133,554.8 L133.6,553.4 L134.2,552 L134.8,550.5 L135.4,549.1 L136,547.7 L136.6,546.2 L137.3,544.8 L137.9,543.4 L138.5,542 L139.1,540.5 L139.7,539.1 L140.3,537.7 L140.9,536.3 L141.6,534.8 L142.2,533.4 L142.8,532 L143.5,530.6 L144.1,529.2 L144.7,527.8 L145.4,526.4 L146,525.1 L146.7,523.7 L147.3,522.3 L148,521 L148.7,519.6 L149.4,518.3 L150.1,516.9 L150.8,515.6 L151.5,514.3 L152.2,513 L152.9,511.7 L153.7,510.4 L154.4,509.1 L155.2,507.8 L156,506.6 L156.8,505.3 L157.6,504.1 L158.4,502.9 L159.2,501.7 L160,500.5 L160.9,499.3 L161.8,498.2 L162.6,497 L163.5,495.9 L164.5,494.7 L165.4,493.6 L166.3,492.6 L167.3,491.5 L168.3,490.4 L169.3,489.4 L170.3,488.4 L171.4,487.4 L172.4,486.4" fill="none" stroke="#a3a3a3" stroke-width="1.05" stroke-linejoin="round"/>
<path d="M63.7,621.9 L65.3,622 L67,622.1 L68.7,622.2 L70.3,622.3 L71.9,622.3 L73.6,622.3 L75.2,622.3 L76.8,622.3 L78.4,622.3 L80,622.2 L81.5,622.1 L83.1,622 L84.7,621.9 L86.2,621.8 L87.8,621.6 L89.3,621.4 L90.8,621.2 L92.3,621 L93.9,620.8 L95.4,620.5 L96.9,620.3 L98.3,620 L99.8,619.7 L101.3,619.4 L102.8,619 L104.2,618.7 L105.7,618.3 L107.1,617.9 L108.5,617.5 L109.9,617.1 L111.4,616.7 L112.8,616.2 L114.2,615.8 L115.6,615.3 L117,614.8 L118.3,614.3 L119.7,613.8 L121.1,613.2 L122.4,612.7 L123.8,612.1 L125.1,611.5 L126.5,610.9 L127.8,610.3 L129.1,609.7 L130.4,609.1 L131.8,608.4 L133.1,607.8 L134.4,607.1 L135.7,606.4 L136.9,605.7 L138.2,605 L139.5,604.3 L140.8,603.5 L142,602.8 L143.3,602 L144.5,601.2 L145.8,600.4 L147,599.7 L148.2,598.8 L149.5,598 L150.7,597.2 L151.9,596.4 L153.1,595.5 L154.3,594.7 L155.5,593.8 L156.7,592.9 L157.9,592 L159.1,591.1 L160.3,590.2 L161.5,589.3 L162.6,588.4 L163.8,587.4 L164.9,586.5 L166.1,585.6 L167.3,584.6 L168.4,583.6 L169.5,582.7 L170.7,581.7 L171.8,580.7 L172.9,579.7 L174.1,578.7 L175.2,577.7 L176.3,576.6 L177.4,575.6 L178.5,574.6 L179.6,573.6 L180.7,572.5 L181.8,571.5 L182.9,570.4 L184,569.3 L185.1,568.3 L186.2,567.2 L187.3,566.1 L188.3,565.1 L189.4,564 L190.5,562.9 L191.5,561.8 L192.6,560.7 L193.7,559.6 L194.7,558.5 L195.8,557.4 L196.8,556.2 L197.9,555.1 L198.9,554 L200,552.9 L201,551.8 L202,550.6 L203.1,549.5 L204.1,548.4 L205.1,547.2 L206.2,546.1 L207.2,545 L208.2,543.8 L209.3,542.7 L210.3,541.5 L211.3,540.4 L212.3,539.2 L213.3,538.1 L214.3,536.9 L215.3,535.8 L216.4,534.7 L217.4,533.5 L218.4,532.4 L219.4,531.2 L220.4,530.1 L221.4,528.9 L222.4,527.8 L223.4,526.6 L224.4,525.5 L225.4,524.4 L226.4,523.2 L227.4,522.1 L228.4,520.9 L229.4,519.8 L230.4,518.7 L231.4,517.6 L232.3,516.4 L233.3,515.3 L234.3,514.2 L235.3,513.1 L236.3,512 L237.3,510.8 L238.3,509.7 L239.3,508.6 L240.3,507.5 L241.3,506.4 L242.3,505.4 L243.3,504.3 L244.2,503.2 L245.2,502.1 L246.2,501 L247.2,500 L248.2,498.9 L249.2,497.9 L250.2,496.8 L251.2,495.8 L252.2,494.7 L253.2,493.7 L254.2,492.7" fill="none" stroke="#a3a3a3" stroke-width="1.05" stroke-linejoin="round"/>
<path d="M178.1,407l6.6,6.6M178.1,413.6l6.6,-6.6" stroke="#333" stroke-width="0.9" fill="none"/>
<path d="M202.8,396.9l6.6,6.6M202.8,403.5l6.6,-6.6" stroke="#333" stroke-width="0.9" fill="none"/>
<path d="M202,428.5l6.6,6.6M202,435.1l6.6,-6.6" stroke="#333" stroke-width="0.9" fill="none"/>
<path d="M181.3,480.9l6.6,6.6M181.3,487.5l6.6,-6.6" stroke="#333" stroke-width="0.9" fill="none"/>
<path d="M172.7,481.7l6.6,6.6M172.7,488.3l6.6,-6.6" stroke="#333" stroke-width="0.9" fill="none"/>
<path d="M253.3,487.4l6.6,6.6M253.3,494l6.6,-6.6" stroke="#333" stroke-width="0.9" fill="none"/>
<path d="M64.3,622 L65.4,621.9 L66.4,621.8 L67.5,621.6 L68.5,621.5 L69.5,621.3 L70.5,621.1 L71.5,620.8 L72.5,620.6 L73.5,620.3 L74.4,620 L75.4,619.7 L76.3,619.3 L77.3,619 L78.2,618.6 L79.1,618.2 L80,617.8 L80.9,617.4 L81.8,616.9 L82.7,616.5 L83.5,616 L84.4,615.5 L85.2,615 L86.1,614.5 L86.9,613.9 L87.7,613.4 L88.6,612.8 L89.4,612.2 L90.2,611.7 L91,611.1 L91.7,610.4 L92.5,609.8 L93.3,609.2 L94.1,608.5 L94.8,607.9 L95.6,607.2 L96.3,606.5 L97,605.9 L97.8,605.2 L98.5,604.5 L99.2,603.8 L99.9,603.1 L100.6,602.3 L101.3,601.6 L102,600.9 L102.6,600.1 L103.3,599.4 L104,598.7 L104.6,597.9 L105.3,597.1 L105.9,596.4 L106.6,595.6 L107.2,594.9 L107.8,594.1 L108.5,593.3 L109.1,592.5 L109.7,591.7 L110.3,591 L110.9,590.2 L111.5,589.4 L112.1,588.6 L112.7,587.8 L113.3,587 L113.9,586.1 L114.4,585.3 L115,584.5 L115.6,583.7 L116.1,582.9 L116.7,582.1 L117.3,581.2 L117.8,580.4 L118.4,579.6 L118.9,578.7 L119.4,577.9 L120,577 L120.5,576.2 L121,575.3 L121.6,574.5 L122.1,573.6 L122.6,572.8 L123.1,571.9 L123.6,571.1 L124.1,570.2 L124.6,569.4 L125.1,568.5 L125.6,567.6 L126.1,566.8 L126.6,565.9 L127.1,565 L127.6,564.1 L128.1,563.3 L128.6,562.4 L129.1,561.5 L129.6,560.6 L130.1,559.8 L130.5,558.9 L131,558 L131.5,557.1 L132,556.2 L132.4,555.3 L132.9,554.4 L133.4,553.6 L133.9,552.7 L134.3,551.8 L134.8,550.9 L135.3,550 L135.7,549.1 L136.2,548.2 L136.7,547.3 L137.1,546.5 L137.6,545.6 L138.1,544.7 L138.5,543.8 L139,542.9 L139.5,542 L139.9,541.1 L140.4,540.2 L140.9,539.3 L141.4,538.4 L141.8,537.6 L142.3,536.7 L142.8,535.8 L143.2,534.9 L143.7,534 L144.2,533.1 L144.7,532.2 L145.1,531.4 L145.6,530.5 L146.1,529.6 L146.6,528.7 L147,527.8 L147.5,526.9 L148,526.1 L148.5,525.2 L149,524.3 L149.4,523.4 L149.9,522.6 L150.4,521.7 L150.9,520.8 L151.4,519.9 L151.9,519.1 L152.4,518.2 L152.9,517.3 L153.4,516.5 L153.9,515.6 L154.4,514.7 L154.9,513.9 L155.4,513 L155.9,512.1 L156.4,511.3 L156.9,510.4 L157.4,509.5 L157.9,508.7 L158.4,507.8 L158.9,507 L159.4,506.1 L159.9,505.2 L160.4,504.4 L160.9,503.5 L161.5,502.7 L162,501.8 L162.5,501 L163,500.1 L163.5,499.3 L164.1,498.4 L164.6,497.6 L165.1,496.7 L165.7,495.9 L166.2,495 L166.7,494.2 L167.3,493.4 L167.8,492.5 L168.3,491.7 L168.9,490.8 L169.4,490 L170,489.2 L170.5,488.3 L171.1,487.5 L171.6,486.7 L172.2,485.8 L172.7,485 L173.3,484.2 L173.8,483.4 L174.4,482.5 L175,481.7 L175.5,480.9 L176.1,480.1 L176.7,479.2 L177.2,478.4 L177.8,477.6 L178.4,476.8 L179,476 L179.6,475.2 L180.1,474.3 L180.7,473.5 L181.3,472.7 L181.9,471.9 L182.5,471.1 L183.1,470.3 L183.7,469.5 L184.3,468.7 L184.9,467.9 L185.5,467.1 L186.1,466.3 L186.8,465.5 L187.4,464.8 L188,464 L188.7,463.2 L189.3,462.4 L190,461.7 L190.6,460.9 L191.3,460.2 L191.9,459.4 L192.6,458.7 L193.3,458 L194,457.2 L194.7,456.5 L195.4,455.8 L196.1,455.1 L196.8,454.4 L197.6,453.7 L198.3,453.1 L199,452.4 L199.8,451.7 L200.6,451.1 L201.4,450.4" fill="none" stroke="#000" stroke-width="4.4" stroke-linejoin="round" stroke-linecap="butt"/>
<path d="M443.5,622.5C445.2,622.1 450.1,622.4 454,620C457.8,617.6 463.1,612.3 466.5,608.2C469.9,604.1 471.8,599.8 474.4,595.6C477,591.4 479.7,587.5 482.3,583C484.9,578.5 487.4,573.5 490,568.8C492.7,564.1 495.3,559.6 497.9,554.6C500.5,549.6 503.4,543.6 505.8,539C508.2,534.4 509.9,531.1 512.1,527C514.2,522.9 516.5,518.8 518.8,514.5C521,510.2 523.6,505.5 525.7,501.5C527.9,497.5 529.7,494.1 531.7,490.5C533.7,486.9 536.1,483.5 537.9,480C539.7,476.5 540.9,473.1 542.7,469.5C544.5,465.9 546.7,462.3 548.7,458.7C550.6,455.1 552.6,451.4 554.6,448C556.6,444.6 558.6,441.6 560.6,438.4C562.6,435.2 564.5,432 566.5,428.8C568.5,425.6 570.3,422.5 572.5,419.2C574.7,415.9 578.5,410.9 579.6,409.2L579.6,491C578.3,492.1 574.3,494.9 571.5,497.5C568.6,500.1 565.5,503.2 562.5,506.5C559.5,509.8 556.5,513.5 553.5,517.3C550.6,521 547.3,525.4 544.7,529C542,532.6 539.9,536.2 537.7,539C535.4,541.8 533.4,543.3 531.2,546C529,548.7 526.8,551.7 524.7,555C522.7,558.3 521.4,561.3 518.8,566C516.1,570.7 512.5,577.5 508.8,583C505,588.5 500.7,594 496.3,598.7C491.9,603.4 485.9,608.4 482.3,611.3C478.6,614.2 478.3,614.6 474.4,616.1C470.5,617.6 463.2,619.5 458.6,620.5C454.1,621.5 448.9,621.9 447,622.2Z" fill="#bfbfbf" stroke="none"/>
<path d="M443.5,622.5C445.6,620.8 451.9,616.1 456,612C460.1,607.9 464,603.2 468,598C472,592.8 476.3,586.8 480,581C483.7,575.2 487,569.2 490,563C493,556.8 495.8,549.3 498,544C500.2,538.7 501.4,534.8 503.1,531C504.9,527.2 506.6,524.9 508.5,521.4C510.4,517.9 512.5,513.5 514.8,509.7C517,505.9 519.6,502.2 522,498.9C524.4,495.6 527,492.3 529.2,489.9C531.5,487.5 533.4,485.9 535.5,484.5C537.6,483.1 539.5,482.1 541.8,481.3C544,480.5 546.8,479.9 549,479.5C551.2,479.1 552.8,479.1 555,478.6C557.2,478.1 559.3,477.7 562,476.4C564.7,475.1 568,472.8 571,471C574,469.2 577,467.4 580,465.6C583,463.8 585.7,462.2 589,460.2C592.3,458.2 596.2,455.4 600,453.5C603.8,451.6 607.9,450 611.9,448.9C615.9,447.8 619.9,447.1 623.9,446.9C627.9,446.7 631.8,447.2 635.8,447.9C639.8,448.6 643.7,449.4 647.7,450.9C651.7,452.4 656.6,455 659.7,456.8C662.9,458.6 665.5,461 666.6,461.8L666.6,535.4C666.2,534 665.9,529.4 664.2,527C662.5,524.6 658.9,522.8 656.2,521C653.5,519.2 650.9,517 648.2,516C645.5,515 643.2,514.8 640.2,515C637.2,515.2 633.6,516.2 630.2,517C626.9,517.8 623.5,519.3 620.1,520C616.8,520.7 613.4,520.6 610.1,521C606.8,521.4 603.5,522 600.1,522.5C596.8,523 593,523.5 590,524C587,524.5 585.3,524.9 582,525.8C578.7,526.7 573.2,528.2 570,529.5C566.8,530.8 565,532.2 563,533.5C561,534.8 560.9,535.4 558,537.5C555.1,539.6 549.2,543.3 545.5,546C541.8,548.7 539.2,550.4 535.5,553.5C531.8,556.6 527.2,560.6 523,564.5C518.8,568.4 513.8,573.5 510,577C506.2,580.5 503.5,582.8 500,585.5C496.5,588.2 493,590.4 489,593.5C485,596.6 480.5,600.5 476,604C471.5,607.5 466.8,611.6 462,614.5C457.2,617.4 449.5,620.1 447,621.2Z" fill="#7f7f7f" stroke="none"/>
<path d="M443.5,622.5C444.7,621.5 448.1,618.8 450.6,616.5C453.1,614.2 456,611.4 458.3,608.9C460.6,606.4 462.8,604.2 464.7,601.2C466.6,598.2 468.4,594.5 470,591C471.6,587.5 472.9,584.3 474.5,580.5C476.1,576.7 477.7,572 479.5,568C481.3,564 483.5,559.8 485.5,556.6C487.5,553.4 489.6,551.1 491.5,548.9C493.4,546.7 494.8,544.8 497,543.5C499.2,542.2 502.7,541.8 505,541.2C507.3,540.7 509,540.7 511,540.2C513,539.7 515,539 517,538C519,537 521,536.2 523,534.5C525,532.8 527,529.9 529,528C531,526.1 533,524.5 535,523.2C537,521.9 539.2,520.8 541,520.2C542.8,519.6 544.2,519.6 546,519.4C547.8,519.2 550,519 552,519C554,519 556.4,519.1 558,519.6C559.6,520.1 560.7,520.9 561.6,522C562.5,523.1 562.9,525.3 563.2,526L563.2,538.8C562.3,538.6 559.9,537.6 558,537.6C556.1,537.6 554,538.3 552,538.8C550,539.3 548,539.8 546,540.6C544,541.4 542,542.5 540,543.6C538,544.7 536,545.9 534,547.2C532,548.5 530,550 528,551.4C526,552.8 524,554.1 522,555.6C520,557.1 518,558.8 516,560.4C514,562 512.1,563.3 510,565.2C507.9,567.1 505.9,569.2 503.6,571.8C501.3,574.4 498.4,577.8 496,581C493.6,584.2 491.5,588 488.9,591C486.3,594 483.6,595.8 480.3,599C477,602.2 473,606.8 469.1,610C465.2,613.2 460.9,616 457,618C453.1,620 447.8,621.5 446,622.2Z" fill="#c3c3c3" stroke="none"/>
<path d="M443.4,623.1 L444.4,622.7 L445.5,622.4 L446.5,622 L447.5,621.7 L448.5,621.3 L449.4,620.9 L450.4,620.5 L451.4,620.1 L452.3,619.7 L453.3,619.2 L454.2,618.8 L455.1,618.3 L456,617.9 L456.9,617.4 L457.8,616.9 L458.7,616.5 L459.6,616 L460.4,615.4 L461.3,614.9 L462.2,614.4 L463,613.9 L463.8,613.3 L464.7,612.8 L465.5,612.2 L466.3,611.7 L467.1,611.1 L467.9,610.5 L468.7,609.9 L469.4,609.3 L470.2,608.7 L471,608.1 L471.7,607.4 L472.5,606.8 L473.2,606.2 L473.9,605.5 L474.7,604.9 L475.4,604.2 L476.1,603.5 L476.8,602.9 L477.5,602.2 L478.2,601.5 L478.9,600.8 L479.6,600.1 L480.2,599.4 L480.9,598.7 L481.6,598 L482.2,597.2 L482.9,596.5 L483.5,595.8 L484.2,595 L484.8,594.3 L485.4,593.5 L486,592.8 L486.7,592 L487.3,591.2 L487.9,590.5 L488.5,589.7 L489.1,588.9 L489.7,588.1 L490.2,587.3 L490.8,586.5 L491.4,585.7 L492,584.9 L492.6,584.1 L493.1,583.3 L493.7,582.5 L494.2,581.6 L494.8,580.8 L495.3,580 L495.9,579.1 L496.4,578.3 L497,577.5 L497.5,576.6 L498,575.8 L498.5,574.9 L499.1,574.1 L499.6,573.2 L500.1,572.4 L500.6,571.5 L501.1,570.6 L501.6,569.8 L502.2,568.9 L502.7,568 L503.2,567.2 L503.7,566.3 L504.2,565.4 L504.7,564.5 L505.1,563.7 L505.6,562.8 L506.1,561.9 L506.6,561 L507.1,560.2 L507.6,559.3 L508.1,558.4 L508.6,557.5 L509,556.6 L509.5,555.7 L510,554.8 L510.5,554 L510.9,553.1 L511.4,552.2 L511.9,551.3 L512.4,550.4 L512.8,549.5 L513.3,548.6 L513.8,547.7 L514.2,546.8 L514.7,545.9 L515.2,545.1 L515.6,544.2 L516.1,543.3 L516.6,542.4 L517.1,541.5 L517.5,540.6 L518,539.7 L518.5,538.8 L518.9,537.9 L519.4,537 L519.9,536.1 L520.3,535.3 L520.8,534.4 L521.3,533.5 L521.7,532.6 L522.2,531.7 L522.7,530.8 L523.2,529.9 L523.6,529 L524.1,528.2 L524.6,527.3 L525.1,526.4 L525.5,525.5 L526,524.6 L526.5,523.8 L527,522.9 L527.5,522 L528,521.1 L528.4,520.3 L528.9,519.4 L529.4,518.5 L529.9,517.6 L530.4,516.8 L530.9,515.9 L531.4,515.1 L531.9,514.2 L532.4,513.3 L532.9,512.5 L533.4,511.6 L533.9,510.8 L534.4,509.9 L535,509.1 L535.5,508.2 L536,507.4 L536.5,506.5 L537,505.7 L537.6,504.9 L538.1,504 L538.6,503.2 L539.2,502.4 L539.7,501.5 L540.3,500.7 L540.8,499.9 L541.4,499.1 L541.9,498.2 L542.5,497.4 L543.1,496.6 L543.6,495.8 L544.2,495 L544.8,494.2 L545.3,493.4 L545.9,492.6 L546.5,491.8 L547.1,491 L547.7,490.2 L548.3,489.5 L548.9,488.7 L549.5,487.9 L550.1,487.1 L550.7,486.4 L551.4,485.6 L552,484.8 L552.6,484.1" fill="none" stroke="#000" stroke-width="3.0" stroke-dasharray="10,12.7"/>
<path d="M552.4,483.7 L552.9,482.9 L553.5,482 L554.1,481.2 L554.6,480.3 L555.2,479.5 L555.7,478.7 L556.3,477.8 L556.9,477 L557.5,476.2 L558.1,475.4 L558.7,474.5 L559.2,473.7 L559.8,472.9 L560.5,472.1 L561.1,471.3 L561.7,470.5 L562.3,469.7 L562.9,468.9 L563.5,468.1 L564.2,467.4 L564.8,466.6 L565.4,465.8 L566.1,465 L566.7,464.2 L567.4,463.5 L568,462.7 L568.7,461.9 L569.4,461.2 L570,460.4 L570.7,459.7 L571.4,458.9 L572,458.2 L572.7,457.4 L573.4,456.7 L574.1,456 L574.8,455.2 L575.5,454.5 L576.2,453.8 L576.9,453.1 L577.6,452.3 L578.3,451.6 L579,450.9" fill="none" stroke="#000" stroke-width="3.0"/>
<path d="M443.5,622.3 L444.4,621.9 L445.4,621.5 L446.3,621.1 L447.2,620.6 L448.2,620.2 L449.1,619.7 L449.9,619.3 L450.8,618.8 L451.7,618.2 L452.5,617.7 L453.3,617.2 L454.2,616.6 L455,616 L455.8,615.5 L456.6,614.9 L457.3,614.2 L458.1,613.6 L458.9,613 L459.6,612.3 L460.4,611.7 L461.1,611 L461.8,610.3 L462.6,609.6 L463.3,608.9 L464,608.2 L464.7,607.5 L465.4,606.8 L466,606.1 L466.7,605.3 L467.4,604.6 L468.1,603.8 L468.7,603.1 L469.4,602.3 L470,601.5 L470.7,600.8 L471.3,600 L472,599.2 L472.6,598.4 L473.2,597.6 L473.9,596.9 L474.5,596.1 L475.1,595.3 L475.7,594.5 L476.3,593.7 L477,592.9 L477.6,592.1 L478.2,591.3 L478.8,590.5 L479.4,589.7 L480,588.9 L480.7,588.1 L481.3,587.3 L481.9,586.5 L482.5,585.8 L483.1,585 L483.7,584.2 L484.3,583.4 L484.9,582.6 L485.5,581.8 L486.1,581 L486.7,580.2 L487.3,579.4 L487.9,578.6 L488.5,577.8 L489.1,577 L489.7,576.3 L490.3,575.5 L490.9,574.7 L491.5,573.9 L492.1,573.1 L492.7,572.3 L493.3,571.5 L493.9,570.7 L494.5,569.8 L495,569 L495.6,568.2 L496.2,567.4 L496.8,566.6 L497.4,565.8 L497.9,565 L498.5,564.1 L499.1,563.3 L499.6,562.5 L500.2,561.7 L500.8,560.8 L501.3,560 L501.9,559.2 L502.4,558.3 L503,557.5 L503.6,556.7 L504.1,555.8 L504.7,555 L505.2,554.1 L505.8,553.3 L506.3,552.4 L506.9,551.6 L507.4,550.7 L508,549.9 L508.5,549 L509.1,548.2 L509.6,547.3 L510.2,546.5 L510.7,545.7 L511.3,544.8 L511.9,544 L512.4,543.1 L513,542.3 L513.5,541.5 L514.1,540.6 L514.7,539.8 L515.3,539 L515.9,538.2 L516.4,537.4 L517,536.5 L517.6,535.7 L518.2,534.9 L518.8,534.1 L519.5,533.3 L520.1,532.6 L520.7,531.8 L521.3,531 L522,530.2 L522.6,529.5 L523.2,528.7 L523.9,528 L524.6,527.2 L525.2,526.5 L525.9,525.8 L526.6,525.1 L527.3,524.3 L528,523.6 L528.7,522.9 L529.4,522.3 L530.1,521.6 L530.9,520.9 L531.6,520.3 L532.4,519.6 L533.1,519 L533.9,518.4 L534.7,517.7 L535.5,517.1 L536.3,516.5 L537.1,516 L537.9,515.4 L538.7,514.8 L539.5,514.2 L540.3,513.7 L541.2,513.1 L542,512.6 L542.9,512.1 L543.7,511.6 L544.6,511.1 L545.5,510.6 L546.3,510.1 L547.2,509.6 L548.1,509.1 L549,508.7 L549.9,508.2 L550.8,507.8 L551.7,507.4 L552.6,506.9 L553.5,506.5 L554.4,506.1 L555.3,505.7 L556.3,505.3 L557.2,504.9 L558.1,504.6 L559,504.2 L560,503.9 L560.9,503.5 L561.9,503.2 L562.8,502.8 L563.7,502.5 L564.7,502.1 L565.6,501.8 L566.6,501.4 L567.5,501.1 L568.4,500.8 L569.4,500.4 L570.3,500.1 L571.3,499.7 L572.2,499.4 L573.1,499 L574.1,498.7 L575,498.3 L575.9,497.9 L576.9,497.5 L577.8,497.1 L578.7,496.7 L579.6,496.3 L580.5,495.9 L581.4,495.5 L582.4,495 L583.3,494.6 L584.2,494.2 L585.1,493.7 L586,493.3 L586.9,492.8 L587.8,492.3 L588.7,491.9 L589.6,491.4 L590.5,491 L591.4,490.5 L592.3,490.1 L593.2,489.7 L594.1,489.2 L595,488.8 L595.9,488.4 L596.8,488 L597.8,487.6 L598.7,487.2 L599.6,486.9 L600.5,486.5 L601.5,486.2 L602.4,485.8 L603.4,485.5 L604.3,485.2 L605.3,484.9 L606.2,484.7 L607.2,484.4 L608.1,484.2 L609.1,483.9 L610.1,483.7 L611,483.5 L612,483.3 L613,483.1 L614,482.9 L614.9,482.8 L615.9,482.6 L616.9,482.5 L617.9,482.3 L618.9,482.2 L619.9,482.1 L620.9,482 L621.9,481.9 L622.9,481.8 L623.9,481.8 L624.9,481.7 L625.9,481.6 L626.9,481.6 L627.9,481.5 L628.9,481.5 L629.9,481.5 L630.9,481.5 L631.9,481.5 L632.9,481.5 L633.9,481.5 L634.9,481.5 L635.9,481.5 L636.9,481.5 L637.9,481.6 L638.9,481.6 L639.9,481.6 L640.9,481.7 L641.9,481.8 L642.9,481.9 L643.8,482.1 L644.8,482.3 L645.7,482.5 L646.7,482.7 L647.6,483 L648.5,483.4 L649.3,483.8 L650.2,484.2 L651,484.7 L651.9,485.2 L652.7,485.7 L653.5,486.3 L654.3,486.9 L655.1,487.5 L656,488.1 L656.8,488.7 L657.6,489.2 L658.4,489.8 L659.3,490.4 L660.1,491 L660.9,491.5 L661.8,492.1 L662.5,492.7 L663.3,493.3 L664.1,493.9 L664.8,494.5 L665.4,495.2 L666,495.9 L666.6,496.6 L667.1,497.3 L667.5,498.2" fill="none" stroke="#000" stroke-width="3.0"/>
<path d="M443.4,622.2 L444.4,621.8 L445.4,621.4 L446.3,620.9 L447.2,620.5 L448.1,620 L449,619.5 L449.9,619 L450.7,618.5 L451.6,618 L452.4,617.4 L453.2,616.8 L454,616.3 L454.8,615.7 L455.5,615 L456.3,614.4 L457,613.8 L457.8,613.1 L458.5,612.4 L459.2,611.8 L459.9,611.1 L460.6,610.4 L461.2,609.6 L461.9,608.9 L462.5,608.2 L463.2,607.4 L463.8,606.7 L464.4,605.9 L465.1,605.1 L465.7,604.3 L466.3,603.5 L466.9,602.7 L467.5,601.9 L468,601.1 L468.6,600.3 L469.2,599.5 L469.7,598.6 L470.3,597.8 L470.9,596.9 L471.4,596.1 L472,595.2 L472.5,594.4 L473,593.5 L473.6,592.7 L474.1,591.8 L474.6,590.9 L475.2,590.1 L475.7,589.2 L476.2,588.3 L476.8,587.5 L477.3,586.6 L477.8,585.7 L478.3,584.9 L478.9,584 L479.4,583.1 L479.9,582.3 L480.5,581.4 L481,580.5 L481.6,579.7 L482.1,578.8 L482.7,578 L483.2,577.2 L483.8,576.3 L484.3,575.5 L484.9,574.7 L485.5,573.8 L486,573 L486.6,572.2 L487.2,571.4 L487.8,570.6 L488.4,569.9 L489,569.1 L489.7,568.3 L490.3,567.6 L490.9,566.8 L491.6,566.1 L492.2,565.4 L492.9,564.7 L493.6,564 L494.3,563.3 L495,562.6 L495.7,561.9 L496.4,561.3 L497.1,560.6 L497.9,560 L498.6,559.4 L499.4,558.8 L500.2,558.2 L501,557.7 L501.8,557.1 L502.6,556.6 L503.5,556.1 L504.3,555.6 L505.2,555.1 L506.1,554.6 L507,554.2 L507.9,553.7 L508.8,553.2 L509.7,552.8 L510.6,552.4 L511.5,551.9 L512.5,551.5 L513.4,551 L514.3,550.6 L515.2,550.1 L516.1,549.7 L517,549.2 L517.9,548.8 L518.8,548.3 L519.7,547.8 L520.6,547.3 L521.5,546.8 L522.3,546.2 L523.2,545.7 L524,545.1 L524.8,544.5 L525.7,544 L526.5,543.4 L527.3,542.8 L528.1,542.2 L528.9,541.6 L529.7,541 L530.5,540.4 L531.3,539.8 L532.1,539.2 L532.9,538.6 L533.7,538 L534.5,537.4 L535.3,536.8 L536.1,536.2 L536.9,535.7 L537.8,535.1 L538.6,534.6 L539.5,534.1 L540.3,533.6 L541.2,533.1 L542.1,532.7 L543,532.2 L543.9,531.8 L544.8,531.4 L545.7,531.1 L546.7,530.8 L547.6,530.5 L548.6,530.2 L549.5,530 L550.5,529.8 L551.5,529.7 L552.4,529.5 L553.4,529.5 L554.4,529.5 L555.3,529.5 L556.3,529.6 L557.2,529.7 L558.2,529.9 L559.1,530.2 L560.1,530.5 L561,530.8 L561.9,531.3 L562.8,531.8 L563.7,532.3 L564.5,533" fill="none" stroke="#000" stroke-width="3.0" stroke-dasharray="9.5,5.2,2.5,5.2" stroke-dashoffset="21"/>
<rect x="64.5" y="6.5" width="302" height="279" fill="none" stroke="#6b6b6b" stroke-width="1"/>
<path d="M64.5,285.5v-3M64.5,6.5v3M64.5,285.5h3M366.5,285.5h-3M107.6,285.5v-3M107.6,6.5v3M64.5,245.6h3M366.5,245.6h-3M150.8,285.5v-3M150.8,6.5v3M64.5,205.8h3M366.5,205.8h-3M193.9,285.5v-3M193.9,6.5v3M64.5,165.9h3M366.5,165.9h-3M237.1,285.5v-3M237.1,6.5v3M64.5,126.1h3M366.5,126.1h-3M280.2,285.5v-3M280.2,6.5v3M64.5,86.2h3M366.5,86.2h-3M323.4,285.5v-3M323.4,6.5v3M64.5,46.4h3M366.5,46.4h-3M366.5,285.5v-3M366.5,6.5v3M64.5,6.5h3M366.5,6.5h-3" stroke="#6b6b6b" stroke-width="1" fill="none"/>
<g font-size="13.7" fill="#3c3c3c"><text x="64.5" y="304.5" text-anchor="middle">0</text><text x="59.1" y="290.8" text-anchor="end">0</text><text x="107.6" y="304.5" text-anchor="middle">1</text><text x="59.1" y="250.9" text-anchor="end">2000</text><text x="150.8" y="304.5" text-anchor="middle">2</text><text x="59.1" y="211.1" text-anchor="end">4000</text><text x="193.9" y="304.5" text-anchor="middle">3</text><text x="59.1" y="171.2" text-anchor="end">6000</text><text x="237.1" y="304.5" text-anchor="middle">4</text><text x="59.1" y="131.4" text-anchor="end">8000</text><text x="280.2" y="304.5" text-anchor="middle">5</text><text x="59.1" y="91.5" text-anchor="end">10000</text><text x="323.4" y="304.5" text-anchor="middle">6</text><text x="59.1" y="51.7" text-anchor="end">12000</text><text x="366.5" y="304.5" text-anchor="middle">7</text><text x="59.1" y="11.8" text-anchor="end">14000</text></g>
<text x="215.5" y="324.5" text-anchor="middle" font-size="15.4" fill="#3c3c3c">Deformation (mm)</text>
<text transform="translate(12.7,146) rotate(-90)" text-anchor="middle" font-size="15.4" fill="#3c3c3c">Force (N)</text>
<rect x="443.5" y="6.5" width="301" height="279" fill="none" stroke="#6b6b6b" stroke-width="1"/>
<path d="M443.5,285.5v-3M443.5,6.5v3M443.5,285.5h3M744.5,285.5h-3M486.5,285.5v-3M486.5,6.5v3M443.5,245.6h3M744.5,245.6h-3M529.5,285.5v-3M529.5,6.5v3M443.5,205.8h3M744.5,205.8h-3M572.5,285.5v-3M572.5,6.5v3M443.5,165.9h3M744.5,165.9h-3M615.5,285.5v-3M615.5,6.5v3M443.5,126.1h3M744.5,126.1h-3M658.5,285.5v-3M658.5,6.5v3M443.5,86.2h3M744.5,86.2h-3M701.5,285.5v-3M701.5,6.5v3M443.5,46.4h3M744.5,46.4h-3M744.5,285.5v-3M744.5,6.5v3M443.5,6.5h3M744.5,6.5h-3" stroke="#6b6b6b" stroke-width="1" fill="none"/>
<g font-size="13.7" fill="#3c3c3c"><text x="443.5" y="304.5" text-anchor="middle">0</text><text x="437" y="290.8" text-anchor="end">0</text><text x="486.5" y="304.5" text-anchor="middle">1</text><text x="437" y="250.9" text-anchor="end">2000</text><text x="529.5" y="304.5" text-anchor="middle">2</text><text x="437" y="211.1" text-anchor="end">4000</text><text x="572.5" y="304.5" text-anchor="middle">3</text><text x="437" y="171.2" text-anchor="end">6000</text><text x="615.5" y="304.5" text-anchor="middle">4</text><text x="437" y="131.4" text-anchor="end">8000</text><text x="658.5" y="304.5" text-anchor="middle">5</text><text x="437" y="91.5" text-anchor="end">10000</text><text x="701.5" y="304.5" text-anchor="middle">6</text><text x="437" y="51.7" text-anchor="end">12000</text><text x="744.5" y="304.5" text-anchor="middle">7</text><text x="437" y="11.8" text-anchor="end">14000</text></g>
<text x="594" y="324.5" text-anchor="middle" font-size="15.4" fill="#3c3c3c">Deformation (mm)</text>
<text transform="translate(391.7,146) rotate(-90)" text-anchor="middle" font-size="15.4" fill="#3c3c3c">Force (N)</text>
<rect x="64.5" y="343.5" width="302" height="279" fill="none" stroke="#6b6b6b" stroke-width="1"/>
<path d="M64.5,622.5v-3M64.5,343.5v3M64.5,622.5h3M366.5,622.5h-3M107.6,622.5v-3M107.6,343.5v3M64.5,582.6h3M366.5,582.6h-3M150.8,622.5v-3M150.8,343.5v3M64.5,542.8h3M366.5,542.8h-3M193.9,622.5v-3M193.9,343.5v3M64.5,502.9h3M366.5,502.9h-3M237.1,622.5v-3M237.1,343.5v3M64.5,463.1h3M366.5,463.1h-3M280.2,622.5v-3M280.2,343.5v3M64.5,423.2h3M366.5,423.2h-3M323.4,622.5v-3M323.4,343.5v3M64.5,383.4h3M366.5,383.4h-3M366.5,622.5v-3M366.5,343.5v3M64.5,343.5h3M366.5,343.5h-3" stroke="#6b6b6b" stroke-width="1" fill="none"/>
<g font-size="13.7" fill="#3c3c3c"><text x="64.5" y="641.5" text-anchor="middle">0</text><text x="59.1" y="627.8" text-anchor="end">0</text><text x="107.6" y="641.5" text-anchor="middle">1</text><text x="59.1" y="587.9" text-anchor="end">2000</text><text x="150.8" y="641.5" text-anchor="middle">2</text><text x="59.1" y="548.1" text-anchor="end">4000</text><text x="193.9" y="641.5" text-anchor="middle">3</text><text x="59.1" y="508.2" text-anchor="end">6000</text><text x="237.1" y="641.5" text-anchor="middle">4</text><text x="59.1" y="468.4" text-anchor="end">8000</text><text x="280.2" y="641.5" text-anchor="middle">5</text><text x="59.1" y="428.5" text-anchor="end">10000</text><text x="323.4" y="641.5" text-anchor="middle">6</text><text x="59.1" y="388.7" text-anchor="end">12000</text><text x="366.5" y="641.5" text-anchor="middle">7</text><text x="59.1" y="348.8" text-anchor="end">14000</text></g>
<text x="215.5" y="661.5" text-anchor="middle" font-size="15.4" fill="#3c3c3c">Deformation (mm)</text>
<text transform="translate(12.7,483) rotate(-90)" text-anchor="middle" font-size="15.4" fill="#3c3c3c">Force (N)</text>
<rect x="443.5" y="343.5" width="301" height="279" fill="none" stroke="#6b6b6b" stroke-width="1"/>
<path d="M443.5,622.5v-3M443.5,343.5v3M443.5,622.5h3M744.5,622.5h-3M486.5,622.5v-3M486.5,343.5v3M443.5,582.6h3M744.5,582.6h-3M529.5,622.5v-3M529.5,343.5v3M443.5,542.8h3M744.5,542.8h-3M572.5,622.5v-3M572.5,343.5v3M443.5,502.9h3M744.5,502.9h-3M615.5,622.5v-3M615.5,343.5v3M443.5,463.1h3M744.5,463.1h-3M658.5,622.5v-3M658.5,343.5v3M443.5,423.2h3M744.5,423.2h-3M701.5,622.5v-3M701.5,343.5v3M443.5,383.4h3M744.5,383.4h-3M744.5,622.5v-3M744.5,343.5v3M443.5,343.5h3M744.5,343.5h-3" stroke="#6b6b6b" stroke-width="1" fill="none"/>
<g font-size="13.7" fill="#3c3c3c"><text x="443.5" y="641.5" text-anchor="middle">0</text><text x="437" y="627.8" text-anchor="end">0</text><text x="486.5" y="641.5" text-anchor="middle">1</text><text x="437" y="587.9" text-anchor="end">2000</text><text x="529.5" y="641.5" text-anchor="middle">2</text><text x="437" y="548.1" text-anchor="end">4000</text><text x="572.5" y="641.5" text-anchor="middle">3</text><text x="437" y="508.2" text-anchor="end">6000</text><text x="615.5" y="641.5" text-anchor="middle">4</text><text x="437" y="468.4" text-anchor="end">8000</text><text x="658.5" y="641.5" text-anchor="middle">5</text><text x="437" y="428.5" text-anchor="end">10000</text><text x="701.5" y="641.5" text-anchor="middle">6</text><text x="437" y="388.7" text-anchor="end">12000</text><text x="744.5" y="641.5" text-anchor="middle">7</text><text x="437" y="348.8" text-anchor="end">14000</text></g>
<text x="594" y="661.5" text-anchor="middle" font-size="15.4" fill="#3c3c3c">Deformation (mm)</text>
<text transform="translate(391.7,483) rotate(-90)" text-anchor="middle" font-size="15.4" fill="#3c3c3c">Force (N)</text>
<text transform="translate(591.1,438.5) scale(0.852,1)" font-size="19.8" font-weight="normal" fill="#000" stroke="#000" stroke-width="0.5">3</text>
<text transform="translate(607.9,438.5) scale(1.066,1)" font-size="19.8" font-weight="normal" fill="#000" stroke="#000" stroke-width="0.5">m</text><path d="M633.3,423L627.6,441.5" stroke="#000" stroke-width="1.9" fill="none"/><text transform="translate(635.7,438.5) scale(0.822,1)" font-size="19.8" font-weight="normal" fill="#000" stroke="#000" stroke-width="0.5">s</text>
<text transform="translate(675.8,500.5) scale(0.930,1)" font-size="19.8" font-weight="normal" fill="#000" stroke="#000" stroke-width="0.5">2</text>
<text transform="translate(692.9,500.5) scale(1.066,1)" font-size="19.8" font-weight="normal" fill="#000" stroke="#000" stroke-width="0.5">m</text><path d="M718.6,484.7L712.6,503.2" stroke="#000" stroke-width="1.9" fill="none"/><text transform="translate(720.8,500.5) scale(0.788,1)" font-size="19.8" font-weight="normal" fill="#000" stroke="#000" stroke-width="0.5">s</text>
<text transform="translate(569.4,562.4) scale(1.031,1)" font-size="19.8" font-weight="normal" fill="#000" stroke="#000" stroke-width="0.5">1</text>
<text transform="translate(586.6,562.4) scale(1.088,1)" font-size="19.8" font-weight="normal" fill="#000" stroke="#000" stroke-width="0.5">m</text><path d="M612.6,546.3L606.6,565.2" stroke="#000" stroke-width="1.9" fill="none"/><text transform="translate(614.8,562.4) scale(0.788,1)" font-size="19.8" font-weight="normal" fill="#000" stroke="#000" stroke-width="0.5">s</text>
<text transform="translate(70.7,33.5) scale(0.967,1)" font-size="20.5" font-weight="bold" fill="#000">A</text>
<text transform="translate(453,33.5) scale(0.856,1)" font-size="20.5" font-weight="bold" fill="#000">B</text>
<text transform="translate(71.3,372.3) scale(0.813,1)" font-size="20.5" font-weight="bold" fill="#000">C</text>
<text transform="translate(452.4,372) scale(0.963,1)" font-size="20.5" font-weight="bold" fill="#000">D</text>
<text transform="translate(181.6,32.4) scale(0.913,1)" font-size="20.5" font-weight="bold" fill="#000">1</text>
<text transform="translate(203.7,32.5) scale(1.000,1)" font-size="20.5" font-weight="bold" fill="#000">m</text><path d="M230.4,16.9L224.9,35.3" stroke="#000" stroke-width="2.7" fill="none"/><text transform="translate(233.5,32.5) scale(0.732,1)" font-size="20.5" font-weight="bold" fill="#000">s</text>
<text transform="translate(562.8,33.3) scale(0.953,1)" font-size="20.5" font-weight="bold" fill="#000">2</text>
<text transform="translate(584.9,33.2) scale(1.019,1)" font-size="20.5" font-weight="bold" fill="#000">m</text><path d="M612.2,17.5L606.1,35.9" stroke="#000" stroke-width="2.7" fill="none"/><text transform="translate(615,33.2) scale(0.732,1)" font-size="20.5" font-weight="bold" fill="#000">s</text>
<text transform="translate(182.8,372) scale(0.913,1)" font-size="20.5" font-weight="bold" fill="#000">3</text>
<text transform="translate(204.9,372.1) scale(1.000,1)" font-size="20.5" font-weight="bold" fill="#000">m</text><path d="M231.5,356.1L225.5,374.8" stroke="#000" stroke-width="2.7" fill="none"/><text transform="translate(234.7,372.1) scale(0.762,1)" font-size="20.5" font-weight="bold" fill="#000">s</text>
<text transform="translate(543.3,372.1) scale(0.996,1)" font-size="20.5" font-weight="bold" fill="#000">Combined</text>
</g>
</svg>
</body></html>
